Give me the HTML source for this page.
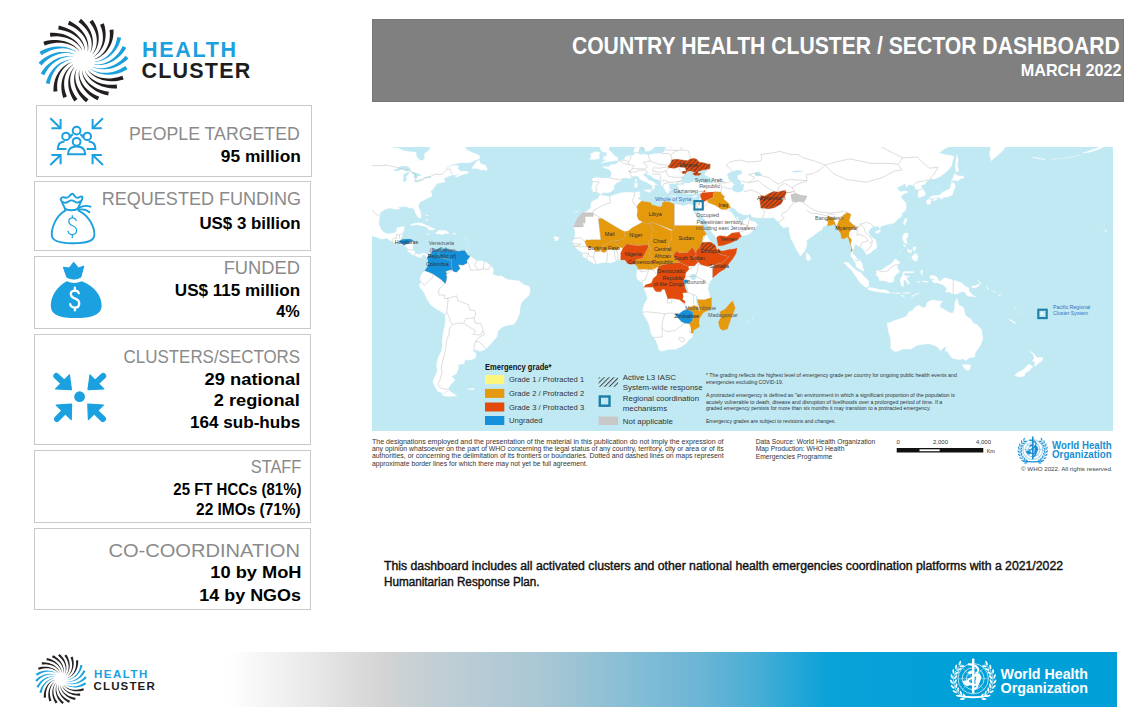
<!DOCTYPE html><html><head><meta charset="utf-8"><style>
*{margin:0;padding:0;box-sizing:border-box}
html,body{width:1132px;height:716px;overflow:hidden;background:#fff}
body{position:relative;font-family:"Liberation Sans",sans-serif}
.a{position:absolute;white-space:nowrap}
.box{position:absolute;border:1px solid #c9c9c9;background:#fff}
.lab{position:absolute;right:0;color:#8a8a8a;font-weight:normal;transform-origin:100% 0}
.val{position:absolute;right:0;color:#000;font-weight:bold;transform-origin:100% 0}
.map{position:absolute;left:372px;top:147px}
.leg{position:absolute;font-size:8px;color:#222}
.sw{position:absolute;width:19px;height:9px}
.note{position:absolute;font-size:5px;color:#333;line-height:6.6px;white-space:nowrap}
</style></head><body>
<svg style="position:absolute;left:0;top:0" width="140" height="110" viewBox="-83.5 -60.6 140 110"><path d="M8.97 6.46L11.20 7.32L13.56 7.99L16.03 8.45L18.59 8.70L21.22 8.72L23.91 8.50L26.63 8.04L29.37 7.34L32.10 6.38L34.81 5.17L37.46 3.71L40.05 2.00L42.54 0.03L44.92 -2.17L41.95 -4.86L40.00 -2.66L37.92 -0.67L35.72 1.13L33.43 2.71L31.05 4.07L28.61 5.21L26.12 6.14L23.61 6.83L21.09 7.30L18.59 7.54L16.11 7.56L13.68 7.35L11.31 6.93L9.04 6.28Z" fill="#1ba0db"/><path d="M6.86 8.39L8.78 9.75L10.87 10.97L13.13 12.00L15.54 12.86L18.08 13.50L20.75 13.94L23.51 14.15L26.36 14.12L29.27 13.85L32.22 13.34L35.19 12.56L38.16 11.53L41.12 10.24L44.03 8.68L41.85 5.33L39.35 6.99L36.77 8.42L34.15 9.63L31.49 10.61L28.81 11.36L26.13 11.88L23.48 12.18L20.86 12.25L18.30 12.10L15.82 11.73L13.43 11.16L11.14 10.38L8.98 9.40L6.98 8.23Z" fill="#1ba0db"/><path d="M4.28 9.74L5.76 11.52L7.44 13.19L9.34 14.74L11.43 16.14L13.72 17.38L16.17 18.43L18.79 19.30L21.55 19.96L24.44 20.40L27.44 20.60L30.54 20.57L33.70 20.28L36.91 19.74L40.15 18.94L38.88 15.15L35.99 16.16L33.11 16.93L30.23 17.47L27.39 17.78L24.60 17.86L21.87 17.73L19.23 17.38L16.69 16.82L14.27 16.06L11.98 15.12L9.83 13.99L7.85 12.69L6.04 11.23L4.43 9.62Z" fill="#231f20"/><path d="M1.41 10.43L2.34 12.50L3.50 14.52L4.90 16.47L6.54 18.32L8.41 20.07L10.49 21.68L12.78 23.14L15.28 24.44L17.95 25.56L20.80 26.48L23.80 27.19L26.94 27.67L30.20 27.92L33.56 27.92L33.24 23.93L30.17 24.21L27.17 24.27L24.25 24.10L21.43 23.72L18.71 23.14L16.13 22.36L13.68 21.39L11.39 20.24L9.27 18.93L7.33 17.47L5.58 15.87L4.03 14.14L2.69 12.30L1.59 10.35Z" fill="#231f20"/><path d="M-1.56 10.41L-1.24 12.63L-0.68 14.86L0.13 17.07L1.20 19.25L2.52 21.39L4.08 23.44L5.90 25.41L7.95 27.26L10.23 28.99L12.73 30.56L15.44 31.96L18.35 33.18L21.43 34.20L24.69 35.01L25.33 31.06L22.30 30.60L19.39 29.94L16.63 29.08L14.01 28.04L11.56 26.83L9.29 25.46L7.21 23.94L5.32 22.29L3.64 20.52L2.18 18.64L0.94 16.68L-0.07 14.63L-0.84 12.53L-1.36 10.38Z" fill="#231f20"/><path d="M-4.42 9.68L-4.73 11.90L-4.81 14.18L-4.64 16.51L-4.23 18.87L-3.55 21.24L-2.61 23.61L-1.40 25.94L0.07 28.22L1.80 30.44L3.78 32.56L6.01 34.57L8.49 36.45L11.19 38.17L14.12 39.73L15.70 36.06L12.91 34.90L10.30 33.56L7.88 32.07L5.65 30.45L3.64 28.69L1.83 26.83L0.25 24.86L-1.10 22.82L-2.23 20.71L-3.11 18.55L-3.76 16.35L-4.16 14.13L-4.32 11.91L-4.22 9.71Z" fill="#231f20"/><path d="M-6.98 8.29L-7.89 10.35L-8.61 12.53L-9.10 14.81L-9.36 17.19L-9.37 19.64L-9.12 22.15L-8.60 24.69L-7.82 27.25L-6.77 29.80L-5.44 32.33L-3.84 34.81L-1.96 37.22L0.17 39.54L2.57 41.76L5.03 38.60L2.67 36.81L0.53 34.90L-1.39 32.89L-3.08 30.78L-4.53 28.61L-5.74 26.38L-6.72 24.11L-7.46 21.81L-7.95 19.50L-8.20 17.19L-8.21 14.91L-7.98 12.66L-7.51 10.48L-6.79 8.37Z" fill="#231f20"/><path d="M-9.06 6.33L-10.52 8.10L-11.82 10.03L-12.94 12.11L-13.85 14.34L-14.54 16.70L-15.00 19.18L-15.22 21.75L-15.17 24.41L-14.87 27.13L-14.29 29.89L-13.43 32.67L-12.29 35.45L-10.87 38.21L-9.16 40.93L-5.98 38.51L-7.75 36.22L-9.27 33.87L-10.56 31.47L-11.60 29.04L-12.39 26.59L-12.94 24.15L-13.24 21.71L-13.31 19.31L-13.14 16.96L-12.73 14.66L-12.10 12.45L-11.25 10.33L-10.18 8.33L-8.90 6.46Z" fill="#231f20"/><path d="M-10.52 3.95L-12.43 5.30L-14.23 6.85L-15.88 8.59L-17.39 10.52L-18.71 12.63L-19.85 14.90L-20.78 17.33L-21.48 19.90L-21.95 22.59L-22.16 25.39L-22.11 28.28L-21.78 31.24L-21.18 34.25L-20.29 37.29L-16.57 35.82L-17.63 33.19L-18.45 30.55L-19.01 27.93L-19.33 25.33L-19.41 22.77L-19.26 20.27L-18.87 17.84L-18.26 15.50L-17.44 13.26L-16.40 11.13L-15.17 9.14L-13.76 7.30L-12.16 5.61L-10.41 4.11Z" fill="#231f20"/><path d="M-11.27 1.29L-13.50 2.14L-15.66 3.21L-17.75 4.49L-19.74 5.99L-21.61 7.70L-23.34 9.62L-24.92 11.73L-26.31 14.04L-27.51 16.52L-28.50 19.17L-29.26 21.96L-29.77 24.89L-30.03 27.94L-30.02 31.08L-26.03 30.70L-26.33 27.91L-26.38 25.16L-26.19 22.49L-25.77 19.89L-25.13 17.40L-24.28 15.01L-23.22 12.75L-21.98 10.62L-20.55 8.65L-18.96 6.84L-17.21 5.20L-15.32 3.76L-13.32 2.51L-11.20 1.48Z" fill="#231f20"/><path d="M-11.25 -1.45L-13.64 -1.16L-16.04 -0.65L-18.42 0.08L-20.76 1.05L-23.04 2.25L-25.25 3.69L-27.36 5.35L-29.35 7.23L-31.20 9.34L-32.89 11.65L-34.40 14.16L-35.72 16.85L-36.81 19.73L-37.68 22.76L-33.75 23.51L-33.25 20.73L-32.53 18.05L-31.59 15.50L-30.46 13.09L-29.14 10.82L-27.65 8.71L-25.99 6.77L-24.19 5.01L-22.26 3.44L-20.21 2.07L-18.07 0.91L-15.84 -0.04L-13.56 -0.76L-11.23 -1.25Z" fill="#1ba0db"/><path d="M-10.47 -4.09L-12.86 -4.39L-15.32 -4.47L-17.83 -4.33L-20.36 -3.96L-22.91 -3.34L-25.44 -2.49L-27.94 -1.39L-30.39 -0.05L-32.76 1.53L-35.04 3.35L-37.20 5.40L-39.21 7.68L-41.08 10.18L-42.76 12.89L-39.18 14.69L-37.92 12.12L-36.47 9.70L-34.85 7.45L-33.08 5.38L-31.16 3.50L-29.13 1.81L-26.98 0.33L-24.75 -0.94L-22.44 -2.00L-20.08 -2.83L-17.69 -3.44L-15.28 -3.83L-12.87 -3.98L-10.49 -3.90Z" fill="#1ba0db"/><path d="M-8.97 -6.46L-11.20 -7.32L-13.56 -7.99L-16.03 -8.45L-18.59 -8.70L-21.22 -8.72L-23.91 -8.50L-26.63 -8.04L-29.37 -7.34L-32.10 -6.38L-34.81 -5.17L-37.46 -3.71L-40.05 -2.00L-42.54 -0.03L-44.92 2.17L-41.95 4.86L-40.00 2.66L-37.92 0.67L-35.72 -1.13L-33.43 -2.71L-31.05 -4.07L-28.61 -5.21L-26.12 -6.14L-23.61 -6.83L-21.09 -7.30L-18.59 -7.54L-16.11 -7.56L-13.68 -7.35L-11.31 -6.93L-9.04 -6.28Z" fill="#1ba0db"/><path d="M-6.86 -8.39L-8.78 -9.75L-10.87 -10.97L-13.13 -12.00L-15.54 -12.86L-18.08 -13.50L-20.75 -13.94L-23.51 -14.15L-26.36 -14.12L-29.27 -13.85L-32.22 -13.34L-35.19 -12.56L-38.16 -11.53L-41.12 -10.24L-44.03 -8.68L-41.85 -5.33L-39.35 -6.99L-36.77 -8.42L-34.15 -9.63L-31.49 -10.61L-28.81 -11.36L-26.13 -11.88L-23.48 -12.18L-20.86 -12.25L-18.30 -12.10L-15.82 -11.73L-13.43 -11.16L-11.14 -10.38L-8.98 -9.40L-6.98 -8.23Z" fill="#1ba0db"/><path d="M-4.28 -9.74L-5.76 -11.52L-7.44 -13.19L-9.34 -14.74L-11.43 -16.14L-13.72 -17.38L-16.17 -18.43L-18.79 -19.30L-21.55 -19.96L-24.44 -20.40L-27.44 -20.60L-30.54 -20.57L-33.70 -20.28L-36.91 -19.74L-40.15 -18.94L-38.88 -15.15L-35.99 -16.16L-33.11 -16.93L-30.23 -17.47L-27.39 -17.78L-24.60 -17.86L-21.87 -17.73L-19.23 -17.38L-16.69 -16.82L-14.27 -16.06L-11.98 -15.12L-9.83 -13.99L-7.85 -12.69L-6.04 -11.23L-4.43 -9.62Z" fill="#231f20"/><path d="M-1.41 -10.43L-2.34 -12.50L-3.50 -14.52L-4.90 -16.47L-6.54 -18.32L-8.41 -20.07L-10.49 -21.68L-12.78 -23.14L-15.28 -24.44L-17.95 -25.56L-20.80 -26.48L-23.80 -27.19L-26.94 -27.67L-30.20 -27.92L-33.56 -27.92L-33.24 -23.93L-30.17 -24.21L-27.17 -24.27L-24.25 -24.10L-21.43 -23.72L-18.71 -23.14L-16.13 -22.36L-13.68 -21.39L-11.39 -20.24L-9.27 -18.93L-7.33 -17.47L-5.58 -15.87L-4.03 -14.14L-2.69 -12.30L-1.59 -10.35Z" fill="#231f20"/><path d="M1.56 -10.41L1.24 -12.63L0.68 -14.86L-0.13 -17.07L-1.20 -19.25L-2.52 -21.39L-4.08 -23.44L-5.90 -25.41L-7.95 -27.26L-10.23 -28.99L-12.73 -30.56L-15.44 -31.96L-18.35 -33.18L-21.43 -34.20L-24.69 -35.01L-25.33 -31.06L-22.30 -30.60L-19.39 -29.94L-16.63 -29.08L-14.01 -28.04L-11.56 -26.83L-9.29 -25.46L-7.21 -23.94L-5.32 -22.29L-3.64 -20.52L-2.18 -18.64L-0.94 -16.68L0.07 -14.63L0.84 -12.53L1.36 -10.38Z" fill="#231f20"/><path d="M4.42 -9.68L4.73 -11.90L4.81 -14.18L4.64 -16.51L4.23 -18.87L3.55 -21.24L2.61 -23.61L1.40 -25.94L-0.07 -28.22L-1.80 -30.44L-3.78 -32.56L-6.01 -34.57L-8.49 -36.45L-11.19 -38.17L-14.12 -39.73L-15.70 -36.06L-12.91 -34.90L-10.30 -33.56L-7.88 -32.07L-5.65 -30.45L-3.64 -28.69L-1.83 -26.83L-0.25 -24.86L1.10 -22.82L2.23 -20.71L3.11 -18.55L3.76 -16.35L4.16 -14.13L4.32 -11.91L4.22 -9.71Z" fill="#231f20"/><path d="M6.98 -8.29L7.89 -10.35L8.61 -12.53L9.10 -14.81L9.36 -17.19L9.37 -19.64L9.12 -22.15L8.60 -24.69L7.82 -27.25L6.77 -29.80L5.44 -32.33L3.84 -34.81L1.96 -37.22L-0.17 -39.54L-2.57 -41.76L-5.03 -38.60L-2.67 -36.81L-0.53 -34.90L1.39 -32.89L3.08 -30.78L4.53 -28.61L5.74 -26.38L6.72 -24.11L7.46 -21.81L7.95 -19.50L8.20 -17.19L8.21 -14.91L7.98 -12.66L7.51 -10.48L6.79 -8.37Z" fill="#231f20"/><path d="M9.06 -6.33L10.52 -8.10L11.82 -10.03L12.94 -12.11L13.85 -14.34L14.54 -16.70L15.00 -19.18L15.22 -21.75L15.17 -24.41L14.87 -27.13L14.29 -29.89L13.43 -32.67L12.29 -35.45L10.87 -38.21L9.16 -40.93L5.98 -38.51L7.75 -36.22L9.27 -33.87L10.56 -31.47L11.60 -29.04L12.39 -26.59L12.94 -24.15L13.24 -21.71L13.31 -19.31L13.14 -16.96L12.73 -14.66L12.10 -12.45L11.25 -10.33L10.18 -8.33L8.90 -6.46Z" fill="#231f20"/><path d="M10.52 -3.95L12.43 -5.30L14.23 -6.85L15.88 -8.59L17.39 -10.52L18.71 -12.63L19.85 -14.90L20.78 -17.33L21.48 -19.90L21.95 -22.59L22.16 -25.39L22.11 -28.28L21.78 -31.24L21.18 -34.25L20.29 -37.29L16.57 -35.82L17.63 -33.19L18.45 -30.55L19.01 -27.93L19.33 -25.33L19.41 -22.77L19.26 -20.27L18.87 -17.84L18.26 -15.50L17.44 -13.26L16.40 -11.13L15.17 -9.14L13.76 -7.30L12.16 -5.61L10.41 -4.11Z" fill="#231f20"/><path d="M11.27 -1.29L13.50 -2.14L15.66 -3.21L17.75 -4.49L19.74 -5.99L21.61 -7.70L23.34 -9.62L24.92 -11.73L26.31 -14.04L27.51 -16.52L28.50 -19.17L29.26 -21.96L29.77 -24.89L30.03 -27.94L30.02 -31.08L26.03 -30.70L26.33 -27.91L26.38 -25.16L26.19 -22.49L25.77 -19.89L25.13 -17.40L24.28 -15.01L23.22 -12.75L21.98 -10.62L20.55 -8.65L18.96 -6.84L17.21 -5.20L15.32 -3.76L13.32 -2.51L11.20 -1.48Z" fill="#231f20"/><path d="M11.25 1.45L13.64 1.16L16.04 0.65L18.42 -0.08L20.76 -1.05L23.04 -2.25L25.25 -3.69L27.36 -5.35L29.35 -7.23L31.20 -9.34L32.89 -11.65L34.40 -14.16L35.72 -16.85L36.81 -19.73L37.68 -22.76L33.75 -23.51L33.25 -20.73L32.53 -18.05L31.59 -15.50L30.46 -13.09L29.14 -10.82L27.65 -8.71L25.99 -6.77L24.19 -5.01L22.26 -3.44L20.21 -2.07L18.07 -0.91L15.84 0.04L13.56 0.76L11.23 1.25Z" fill="#1ba0db"/><path d="M10.47 4.09L12.86 4.39L15.32 4.47L17.83 4.33L20.36 3.96L22.91 3.34L25.44 2.49L27.94 1.39L30.39 0.05L32.76 -1.53L35.04 -3.35L37.20 -5.40L39.21 -7.68L41.08 -10.18L42.76 -12.89L39.18 -14.69L37.92 -12.12L36.47 -9.70L34.85 -7.45L33.08 -5.38L31.16 -3.50L29.13 -1.81L26.98 -0.33L24.75 0.94L22.44 2.00L20.08 2.83L17.69 3.44L15.28 3.83L12.87 3.98L10.49 3.90Z" fill="#1ba0db"/></svg>
<div id="lh" class="a" style="left:142px;top:39.5px;font-size:21.5px;line-height:1;font-weight:bold;color:#1ba0e0;letter-spacing:1.7px">HEALTH</div>
<div id="lc" class="a" style="left:141.5px;top:61px;font-size:21.5px;line-height:1;font-weight:bold;color:#1d1d1b;letter-spacing:1.2px">CLUSTER</div>
<div class="box" style="left:36px;top:105px;width:276px;height:72px"></div>
<div class="box" style="left:34px;top:181px;width:277px;height:70px"></div>
<div class="box" style="left:34px;top:256px;width:277px;height:73px"></div>
<div class="box" style="left:34px;top:334px;width:277px;height:111px"></div>
<div class="box" style="left:34px;top:450px;width:277px;height:73px"></div>
<div class="box" style="left:34px;top:528px;width:277px;height:82px"></div>
<div id="t0" class="a lab" style="right:831.9px;top:123.9px;font-size:19.2px;line-height:1;transform:scaleX(0.924)">PEOPLE TARGETED</div>
<div id="t1" class="a val" style="right:830.9px;top:147.5px;font-size:17.1px;line-height:1;transform:scaleX(1.015)">95 million</div>
<div id="t2" class="a lab" style="right:831.3px;top:189.0px;font-size:19.2px;line-height:1;transform:scaleX(0.94)">REQUESTED FUNDING</div>
<div id="t3" class="a val" style="right:831.3px;top:214.6px;font-size:17.1px;line-height:1;transform:scaleX(0.986)">US$ 3 billion</div>
<div id="t4" class="a lab" style="right:831.8px;top:257.7px;font-size:19.2px;line-height:1;transform:scaleX(0.954)">FUNDED</div>
<div id="t5" class="a val" style="right:831.8px;top:282.2px;font-size:17.1px;line-height:1;transform:scaleX(1.0)">US$ 115 million</div>
<div id="t6" class="a val" style="right:831.8px;top:302.6px;font-size:17.1px;line-height:1;transform:scaleX(0.95)">4%</div>
<div id="t7" class="a lab" style="right:831.8px;top:346.5px;font-size:19.2px;line-height:1;transform:scaleX(0.882)">CLUSTERS/SECTORS</div>
<div id="t8" class="a val" style="right:831.8px;top:370.5px;font-size:17.1px;line-height:1;transform:scaleX(1.073)">29 national</div>
<div id="t9" class="a val" style="right:831.8px;top:391.7px;font-size:17.1px;line-height:1;transform:scaleX(1.065)">2 regional</div>
<div id="t10" class="a val" style="right:831.8px;top:414.4px;font-size:17.1px;line-height:1;transform:scaleX(1.0)">164 sub-hubs</div>
<div id="t11" class="a lab" style="right:830.8px;top:456.8px;font-size:19.2px;line-height:1;transform:scaleX(0.853)">STAFF</div>
<div id="t12" class="a val" style="right:830.8px;top:481.5px;font-size:15.6px;line-height:1;transform:scaleX(0.96)">25 FT HCCs (81%)</div>
<div id="t13" class="a val" style="right:830.8px;top:502.2px;font-size:15.6px;line-height:1;transform:scaleX(0.99)">22 IMOs (71%)</div>
<div id="t14" class="a lab" style="right:832.1px;top:540.9px;font-size:19.2px;line-height:1;transform:scaleX(1.047)">CO-COORDINATION</div>
<div id="t15" class="a val" style="right:830.8px;top:564.1px;font-size:17.1px;line-height:1;transform:scaleX(1.066)">10 by MoH</div>
<div id="t16" class="a val" style="right:830.8px;top:586.9px;font-size:17.1px;line-height:1;transform:scaleX(1.048)">14 by NGOs</div>
<svg class="a" style="left:0;top:0" width="120" height="440" viewBox="0 0 120 440"><g fill="none" stroke="#1ba0e0" stroke-width="2.0" stroke-linecap="butt" stroke-linejoin="miter"><path d="M50.3 118.2L60.6 128.2"/><path d="M60.6 118.99999999999999L60.6 128.2L51.400000000000006 128.2"/><path d="M103.0 118.2L92.6 128.2"/><path d="M92.6 118.99999999999999L92.6 128.2L101.8 128.2"/><path d="M50.3 165.0L60.6 155.0"/><path d="M60.6 164.2L60.6 155.0L51.400000000000006 155.0"/><path d="M103.0 165.0L92.6 155.0"/><path d="M92.6 164.2L92.6 155.0L101.8 155.0"/><circle cx="76.6" cy="130.6" r="3.9"/><circle cx="65.9" cy="136.4" r="3.7"/><circle cx="87.3" cy="136.4" r="3.7"/><circle cx="76.6" cy="141.8" r="3.9"/><path d="M68 154.3L85.2 154.3Q85.2 146.6 76.6 146.6Q68 146.6 68 154.3Z"/><path d="M66.5 148.9L57.8 148.9Q57.8 141.9 64.6 141.6"/><path d="M86.7 148.9L95.4 148.9Q95.4 141.9 88.6 141.6"/><path d="M70.3 138Q70.5 135 73 134.6M82.9 138Q82.7 135 80.2 134.6"/></g><g fill="none" stroke="#1ba0e0" stroke-width="1.9" stroke-linejoin="round" stroke-linecap="round"><path d="M65 208.6L60.6 199.2Q61.5 196.6 64.5 197.5Q67.5 198.5 70 195.5L71.4 194Q72.6 193.2 73.6 194.6L75.5 197Q78 198.6 80.6 196.6Q82.8 195.8 82.4 198.6L77.8 208.6"/><path d="M62.8 202Q65.5 203.8 68.5 201.5Q71.5 199.3 74.5 201.5Q77.5 203.8 80.4 201.3"/><path d="M65 209Q71.3 211.5 77.8 209"/><path d="M65.3 210.6C57 215 51.6 226 51.8 235C52 241.5 60 243.3 72.5 243.2C86 243.3 94 241.5 94.4 235C94.6 226 88 215 78.6 210.6"/><path d="M78.5 207.8Q85 204.6 90.5 206.7M79.2 209.6Q85.5 208.6 89.4 212.2"/></g><path d="M76.2 220.5Q75.2 217.6 72.2 217.8Q68.6 218.2 68.8 221.6Q69.2 224.6 72.6 225.7Q76.8 227 76.6 230.8Q76.2 234.8 72 234.6Q68.4 234.3 68 231M72.3 215.6V217.8M72.3 234.6V237.6" fill="none" stroke="#1ba0e0" stroke-width="1.2" stroke-linecap="round"/><path d="M63.3 267.2L69.2 268L73.7 262.2L78.4 268L83.8 266L80.8 277.2Q74 281 66.8 277.2Z" fill="#1ba0e0" stroke="#1ba0e0" stroke-width="1" stroke-linejoin="round"/><path d="M66.8 281.3Q74 284.8 81.8 281.3C94.5 286.5 101.6 295.5 101.6 305.5C101.6 315.5 90 318.1 76 318.1C61 318.1 50.8 315.5 50.8 305.5C50.8 295.5 57.5 286.5 66.8 281.3Z" fill="#1ba0e0"/><path d="M78.8 293.2Q78.2 290.6 74.8 290.6Q70.6 290.8 70.8 294.4Q71.2 297.4 75.2 298.6Q79.4 300 79.2 303.8Q78.8 307.8 74.6 307.6Q70.6 307.3 70.2 304.2M74.9 287.6V290.6M74.9 307.6V310.4" fill="none" stroke="#fff" stroke-width="2.3" stroke-linecap="round"/><circle cx="79.6" cy="396.7" r="5.4" fill="#1ba0e0"/><path d="M71.4 389.6L69.4 374.8L55.6 389.0Z" fill="#1ba0e0" stroke="#1ba0e0" stroke-width="1.2" stroke-linejoin="round"/><path d="M56.3 376.0L67.0 385.8" stroke="#1ba0e0" stroke-width="6" stroke-linecap="round"/><path d="M88.0 389.6L90.0 374.8L103.8 389.0Z" fill="#1ba0e0" stroke="#1ba0e0" stroke-width="1.2" stroke-linejoin="round"/><path d="M103.2 376.0L92.5 385.8" stroke="#1ba0e0" stroke-width="6" stroke-linecap="round"/><path d="M71.6 404.2L56.2 405.0L71.2 419.6Z" fill="#1ba0e0" stroke="#1ba0e0" stroke-width="1.2" stroke-linejoin="round"/><path d="M57.0 419.0L67.6 408.2" stroke="#1ba0e0" stroke-width="6" stroke-linecap="round"/><path d="M87.8 404.2L103.4 405.0L88.4 419.6Z" fill="#1ba0e0" stroke="#1ba0e0" stroke-width="1.2" stroke-linejoin="round"/><path d="M103.0 419.0L91.8 408.2" stroke="#1ba0e0" stroke-width="6" stroke-linecap="round"/></svg>
<div class="a" style="left:372px;top:19px;width:752px;height:83px;background:#808080;border:1px solid #787878"></div>
<div id="h1" class="a" style="right:12.6px;top:35.2px;font-size:23.5px;font-weight:bold;color:#fff;line-height:1;transform-origin:100% 0;transform:scaleX(0.900)">COUNTRY HEALTH CLUSTER / SECTOR DASHBOARD</div>
<div id="h2" class="a" style="right:10.5px;top:62px;font-size:16.2px;font-weight:bold;color:#fff;line-height:1;transform-origin:100% 0;transform:scaleX(1.0)">MARCH 2022</div>
<svg class="map" width="741" height="284" viewBox="372 147 741 284">
<defs><pattern id="hatch" patternUnits="userSpaceOnUse" width="3.2" height="3.2" patternTransform="rotate(45)"><rect width="3.2" height="3.2" fill="#e24b0b"/><rect width="1" height="3.2" fill="#6b3a2a"/></pattern></defs>
<rect x="372" y="147" width="741" height="284" fill="#c1e9f3"/>
<path d="M301.5 136.8L325.5 136.8L373.6 136.8L385.7 141.2L385.7 143.4L390.5 144.1L392.9 147.4L397.7 147.8L403.7 150.5L409.7 151.6L416.2 152.1L416.4 156.3L418.1 158.3L420.5 160.5L423.4 159.8L424.6 157.8L424.1 153.8L427.7 151.2L429.9 149.0L428.9 145.6L426.5 143.4L426.5 136.8L445.8 136.8L460.2 141.2L465.0 146.5L466.2 149.0L471.0 151.8L475.8 153.4L480.2 156.0L479.4 158.9L475.8 160.2L469.8 162.9L460.2 162.9L453.0 164.5L448.2 166.7L444.6 169.8L450.6 166.0L455.4 165.1L459.0 165.8L457.8 168.2L460.2 171.1L466.2 170.9L469.3 172.2L466.2 174.0L460.2 175.5L456.6 177.5L454.9 176.2L459.0 173.8L455.4 175.3L453.0 174.9L448.2 176.6L444.3 178.4L444.3 180.0L445.8 181.5L444.6 182.2L441.0 183.1L436.6 183.7L436.2 185.1L433.7 188.2L432.3 190.2L430.6 191.0L431.6 193.0L432.5 195.9L430.1 197.2L426.5 199.0L423.6 200.6L420.5 202.1L418.8 204.3L418.6 206.5L420.3 211.0L421.5 215.4L420.8 218.3L419.1 218.3L417.4 216.5L415.2 213.2L414.5 209.9L412.1 207.7L409.7 208.3L406.1 206.8L402.5 206.8L398.9 207.2L399.6 208.8L397.7 209.4L394.1 209.2L389.3 208.3L385.7 209.4L382.0 211.2L379.9 213.2L380.4 216.5L379.2 219.8L378.9 224.3L380.1 226.5L382.0 230.2L384.5 232.5L388.1 233.8L392.9 232.9L395.3 232.5L396.5 230.2L397.0 227.6L402.5 226.5L404.9 226.5L403.7 230.9L402.5 233.3L402.0 236.4L401.3 238.9L403.4 239.1L407.3 238.9L410.9 239.1L414.0 241.1L413.3 245.3L412.8 247.7L413.3 250.2L415.7 252.8L417.6 254.2L420.5 253.9L422.9 252.8L425.3 253.3L428.0 254.8L428.2 255.7L426.8 258.2L425.3 255.5L422.9 254.6L421.7 257.5L420.5 257.9L418.1 257.0L414.8 255.9L413.3 255.3L409.7 252.4L407.5 252.0L408.0 249.7L407.3 247.7L403.7 245.5L402.5 244.9L397.7 243.8L392.4 242.0L386.9 238.4L382.0 239.3L376.0 237.3L370.0 235.3L365.2 233.6L361.6 232.0L360.4 228.7L359.2 223.2L349.6 220.9L337.6 207.7L325.5 198.8L313.5 185.5L301.5 136.8ZM428.2 255.7L429.4 255.1L431.3 253.3L432.5 250.6L434.9 249.7L438.1 249.1L441.0 246.9L442.6 248.0L441.2 249.7L441.9 251.1L442.9 248.6L445.3 248.4L445.8 247.1L447.0 248.6L449.9 250.0L454.9 250.6L459.0 251.3L461.4 250.4L465.0 250.4L466.0 252.2L467.9 255.3L470.3 255.7L473.4 258.6L476.6 260.8L481.8 260.8L485.4 261.7L490.3 264.8L491.5 266.3L493.9 270.1L492.7 274.1L497.5 275.9L501.1 275.4L507.1 279.2L513.1 280.1L519.1 280.7L523.9 284.5L529.5 286.3L530.4 290.7L529.5 295.1L525.1 298.9L521.5 302.9L520.3 307.3L519.8 312.9L517.9 318.0L515.5 322.8L513.1 324.8L507.1 325.5L502.3 327.3L498.0 331.2L497.2 336.8L493.9 340.6L490.3 344.5L486.7 348.3L483.0 350.7L479.4 351.4L475.8 350.1L473.7 348.7L473.4 350.7L476.3 353.4L475.6 358.3L471.0 360.0L465.0 360.3L464.3 363.8L457.8 364.9L459.0 367.8L457.8 370.5L456.6 373.8L451.8 376.4L455.4 380.0L450.6 384.9L448.2 388.4L449.4 390.4L445.8 391.5L443.4 393.7L437.4 391.5L434.9 387.1L432.5 381.5L434.9 376.0L437.4 370.5L436.2 366.0L437.4 359.4L438.6 356.1L441.0 351.6L442.2 346.1L442.2 340.6L442.6 333.9L444.3 327.3L445.3 320.6L445.0 314.6L442.2 312.4L436.2 309.1L430.6 304.9L427.0 299.6L424.1 292.9L420.5 288.3L418.8 285.2L421.0 281.9L419.6 279.0L421.5 274.1L422.9 271.9L424.6 270.8L427.7 266.3L428.2 263.0L427.7 259.3L426.8 258.2ZM449.1 390.6L457.3 395.9L453.0 396.6L445.8 396.4L441.0 394.8L445.8 392.2ZM467.4 388.8L475.1 388.2L473.4 389.9L468.6 389.7ZM409.9 225.6L412.1 223.8L416.9 222.7L421.7 222.9L427.7 225.8L432.3 227.6L435.7 229.4L433.7 230.0L427.3 230.0L428.5 228.5L425.3 226.5L420.5 225.8L416.9 224.7L413.3 225.4ZM435.2 233.3L439.0 230.0L445.8 230.5L449.6 232.9L448.7 233.8L444.6 233.8L442.2 235.1L439.8 234.0L435.7 234.0ZM425.8 233.3L430.9 234.2L429.4 234.7L426.1 234.0ZM452.5 233.1L456.4 233.3L455.9 234.2L452.7 234.2ZM426.1 214.7L428.9 215.2L428.5 216.1L425.3 215.4ZM426.5 218.3L427.7 220.5L427.0 221.4L425.8 219.6ZM471.5 168.7L478.2 168.7L480.6 170.2L484.2 170.0L486.7 170.7L487.4 168.7L485.4 165.1L480.6 163.6L479.4 159.8L476.3 161.8L473.4 165.6ZM599.9 194.8L609.3 196.4L614.1 194.8L621.3 192.6L629.7 192.1L634.8 192.4L638.1 191.5L640.6 192.1L639.3 193.7L640.8 196.1L638.1 198.3L641.0 200.6L644.2 201.4L650.7 202.6L651.9 204.8L655.0 205.4L659.8 207.0L662.2 205.4L662.2 202.8L664.6 201.4L669.4 201.9L674.2 204.1L679.0 204.5L683.8 205.7L688.6 204.1L691.8 204.8L696.3 204.8L698.0 208.8L696.5 212.5L692.5 207.9L694.7 213.2L697.1 217.6L699.9 222.0L702.8 225.4L703.6 229.8L706.7 234.2L708.6 239.1L710.8 241.1L713.9 244.2L717.5 246.4L718.2 248.0L721.1 251.1L724.7 250.4L729.5 249.3L733.1 249.1L737.2 248.0L736.7 250.8L736.3 253.1L733.1 258.6L729.5 263.0L724.7 269.2L719.9 271.9L715.1 275.9L712.7 278.5L710.3 281.2L709.1 284.3L707.9 288.5L709.1 291.8L709.8 296.2L711.5 298.5L711.7 305.1L711.5 308.4L703.1 312.9L699.5 318.4L699.0 322.8L699.7 326.8L693.5 330.6L693.2 332.8L692.3 337.2L689.4 339.4L686.2 343.4L681.4 346.8L675.9 349.4L669.4 349.4L662.2 351.2L658.6 349.9L657.9 346.1L655.7 340.6L653.8 337.4L650.9 333.9L649.0 325.0L648.7 323.9L645.8 318.4L642.5 312.9L642.7 308.9L644.2 304.0L647.3 298.5L645.8 292.9L643.4 287.4L642.5 283.0L636.9 279.2L636.2 275.2L636.9 271.9L637.7 267.0L635.5 264.1L630.9 264.4L627.3 263.5L624.9 260.1L620.1 260.1L616.5 261.0L610.5 263.0L606.4 262.8L602.1 262.8L596.1 264.4L592.5 263.0L586.4 259.0L582.8 256.4L582.1 253.1L578.5 250.2L574.4 246.9L573.7 243.5L572.0 241.5L574.4 238.7L575.1 232.0L573.5 226.9L575.9 221.4L578.8 216.5L582.8 212.7L586.4 211.4L590.5 208.1L591.0 202.1L594.9 199.7L597.7 198.6ZM732.7 300.7L735.3 308.0L733.9 311.8L730.7 319.5L727.6 329.0L722.8 330.6L719.9 328.4L718.2 322.4L720.9 317.3L719.9 311.8L725.2 309.1L729.0 304.2ZM626.1 132.3L627.3 143.4L629.7 145.4L633.3 145.4L636.9 143.4L639.3 142.3L641.0 143.4L642.2 145.6L644.9 149.0L645.1 151.2L648.2 151.4L652.6 149.6L654.3 146.7L654.5 144.5L658.1 142.3L656.2 139.0L656.2 135.7L664.6 131.2L674.2 130.1L674.2 136.8L665.8 139.4L669.4 141.4L677.8 140.3L686.2 141.2L681.4 142.3L670.6 143.0L670.6 145.0L672.8 146.1L671.8 147.8L668.2 146.5L664.6 148.3L664.8 150.7L662.2 152.9L658.6 153.2L653.8 153.4L648.2 154.7L643.0 154.0L640.3 154.5L638.1 153.4L639.3 149.0L639.6 146.3L634.5 147.6L633.6 151.2L634.8 154.5L630.9 155.6L626.1 156.0L624.4 158.5L622.0 160.2L617.9 161.4L617.5 163.1L614.1 164.5L611.0 164.2L609.5 166.2L602.8 166.5L603.5 168.0L608.1 169.3L611.2 171.8L611.0 175.5L609.8 178.0L603.3 178.0L594.9 177.3L591.7 178.9L592.9 182.2L591.3 188.2L592.9 190.2L592.5 192.1L596.3 191.7L599.0 193.3L600.6 194.4L603.3 192.8L609.3 192.8L612.4 190.8L614.6 188.2L613.4 186.6L616.3 183.3L621.8 181.1L621.6 178.6L624.9 178.0L629.7 178.6L632.1 177.1L635.3 175.8L638.6 176.9L639.3 179.1L643.0 181.1L647.3 182.8L651.6 185.5L652.6 187.9L651.9 189.9L652.8 189.9L655.2 187.7L654.0 185.3L657.1 184.8L658.6 185.3L655.0 183.3L652.6 181.3L647.8 179.5L646.8 177.5L643.7 175.5L643.7 173.8L647.0 172.9L646.8 174.4L650.2 175.5L653.8 178.2L658.6 180.2L661.0 181.5L660.8 184.8L662.7 186.4L664.6 189.3L666.0 192.6L668.7 193.3L669.6 190.2L671.8 189.9L668.9 187.9L669.9 185.9L668.4 184.8L671.8 183.7L676.6 183.7L677.1 184.2L680.2 183.3L683.8 182.8L681.4 182.0L681.2 178.4L682.9 176.0L685.3 174.0L687.4 171.5L690.3 170.9L694.7 172.2L692.3 173.8L694.7 175.5L698.3 174.9L701.9 173.8L698.7 172.7L698.3 171.5L704.3 169.8L708.4 169.6L705.5 172.2L704.3 175.1L706.7 176.0L710.3 178.0L714.1 182.2L711.5 183.3L705.5 183.5L698.3 181.1L693.5 181.3L689.1 183.1L684.3 183.1L683.8 184.4L679.5 184.6L677.3 185.5L678.5 187.7L679.5 190.6L680.7 192.8L683.8 193.0L687.4 193.7L691.1 194.1L695.9 193.7L700.7 192.8L700.7 194.8L700.2 197.5L699.5 199.0L698.3 201.4L696.3 204.8L698.0 208.8L698.3 212.1L701.9 216.5L705.5 220.9L708.4 226.5L711.5 232.0L715.1 236.4L717.0 240.9L718.2 246.0L721.1 245.7L724.7 244.4L730.7 243.1L734.3 241.1L739.1 239.1L740.8 236.4L747.1 235.1L750.7 232.9L753.1 230.2L754.8 228.7L757.9 224.5L755.0 221.8L751.2 220.9L750.0 219.8L749.5 215.8L747.6 217.6L744.0 220.5L739.1 220.9L737.9 219.8L738.2 217.0L737.2 216.3L736.3 219.2L734.6 217.0L733.1 214.3L730.7 211.2L729.3 208.8L730.7 207.7L733.1 207.7L735.5 209.4L737.5 212.3L742.8 214.7L747.6 215.2L750.0 214.1L751.9 217.0L756.0 217.8L762.2 218.3L768.0 218.1L774.0 217.8L775.2 219.2L777.6 221.6L778.8 222.0L780.0 224.7L783.6 228.0L787.7 227.1L788.7 226.9L789.2 232.0L790.6 238.7L793.3 243.1L794.5 246.4L796.9 250.8L800.5 256.4L802.1 254.2L804.8 251.3L806.0 248.6L807.2 244.2L806.7 240.4L810.1 238.0L812.5 236.4L817.3 232.7L822.1 229.8L823.3 226.5L826.9 225.8L830.5 225.4L834.1 224.3L836.1 227.6L838.9 230.9L840.9 234.2L841.3 238.2L843.7 239.1L847.8 236.9L849.0 240.4L850.7 245.3L851.2 250.8L850.5 255.9L853.4 259.7L855.3 263.0L855.8 266.3L858.2 268.6L863.0 271.2L864.7 270.8L863.0 267.5L862.5 264.1L860.6 260.8L857.0 258.8L855.1 255.3L852.6 253.5L854.3 246.4L855.8 244.2L858.2 246.2L861.3 247.5L864.2 250.8L866.6 255.1L870.7 253.1L872.6 250.8L876.7 248.6L876.9 244.2L875.7 239.8L870.9 236.4L868.3 232.0L870.9 228.2L873.8 226.5L878.1 226.5L879.8 229.1L881.0 226.5L885.8 224.9L889.4 224.3L894.2 223.2L897.4 219.8L901.5 216.5L902.2 213.2L905.1 211.0L907.0 206.5L905.1 205.4L907.0 203.9L904.6 201.4L901.5 197.7L901.0 196.6L903.9 194.1L908.7 192.1L905.1 190.6L900.3 191.7L897.9 188.8L897.1 187.3L900.3 186.6L905.1 183.5L906.3 187.7L908.7 184.8L912.8 185.5L914.2 186.2L915.4 188.8L918.3 190.8L917.8 194.4L918.3 197.7L920.7 197.2L925.0 195.7L925.5 193.3L923.1 188.8L920.7 185.9L925.5 183.7L926.2 182.2L928.4 180.4L931.0 178.9L934.4 179.3L939.9 176.9L944.7 173.3L948.4 170.0L952.0 165.6L952.7 161.1L954.4 156.3L950.8 155.2L944.7 154.5L939.2 152.7L944.7 149.0L950.8 146.1L956.8 143.0L962.8 142.3L971.2 142.8L979.6 143.4L986.8 142.8L990.4 146.7L989.2 154.5L990.9 161.1L995.2 157.8L998.9 154.5L1003.7 150.1L1006.1 146.1L1010.9 141.2L1046.9 132.3L1046.9 114.6L758.4 114.6L662.2 116.8ZM600.4 163.4L606.9 162.0L617.5 160.7L618.2 157.4L614.8 155.8L612.9 153.4L610.3 150.9L608.8 149.2L609.8 146.5L605.7 146.3L604.5 144.3L601.8 144.3L599.7 147.2L600.6 150.1L602.6 152.3L606.9 152.5L606.2 154.5L606.9 156.0L603.0 156.0L604.0 158.3L601.6 159.6L606.9 160.0L604.0 160.7ZM599.7 158.5L599.2 154.7L600.6 153.2L598.5 151.8L594.4 151.8L590.3 154.0L591.3 156.7L589.1 159.4L594.9 159.8ZM643.9 189.7L651.6 189.3L650.4 192.8L644.2 190.8ZM634.3 183.3L637.7 183.1L637.2 187.3L634.5 187.9ZM634.8 179.1L636.9 179.1L636.5 182.4L635.0 181.5ZM670.6 195.2L677.3 195.9L676.6 196.6L670.9 196.1ZM691.8 196.6L697.3 195.0L695.9 197.5L692.3 197.2ZM806.2 252.4L808.6 254.2L811.0 257.5L810.3 260.1L807.7 261.0L806.0 258.6ZM905.1 218.1L907.5 218.7L906.3 222.0L904.6 225.4L903.1 223.2ZM875.3 231.6L879.8 229.6L881.0 230.7L878.1 233.6L875.3 232.9ZM926.0 200.6L929.1 198.8L931.5 199.9L930.3 204.3L927.2 205.0L926.2 201.7ZM928.9 198.1L932.7 195.5L939.9 195.0L942.3 192.1L944.7 191.0L949.6 188.8L950.8 185.5L951.2 182.6L954.4 182.6L955.6 186.6L954.4 189.3L953.2 192.1L952.7 195.0L949.6 196.6L947.2 197.2L943.5 197.5L941.1 199.7L939.2 197.5L933.9 198.1L931.0 198.8ZM932.7 201.0L936.3 200.3L938.0 198.6L935.1 198.1L933.0 199.0ZM950.8 182.2L952.0 179.7L954.6 173.5L958.0 175.5L963.5 176.0L964.0 178.2L960.4 179.1L958.7 181.1L953.2 180.4ZM955.6 172.2L959.2 171.1L957.5 165.6L958.5 160.0L956.8 153.8L955.6 161.1L955.1 166.7ZM904.1 233.1L908.0 233.1L908.2 236.4L906.3 239.1L907.0 242.6L912.3 245.3L908.7 243.5L904.1 243.3L903.9 242.0L902.7 239.8L902.2 237.8ZM907.5 258.6L911.1 257.0L915.9 252.8L918.3 256.4L917.6 260.1L915.9 261.7L912.8 260.1L911.6 256.8ZM907.5 248.0L910.4 250.8L908.7 253.1L907.5 250.8ZM913.0 246.4L916.4 247.5L914.7 251.5L913.0 249.7ZM911.1 249.3L912.3 251.3L910.1 253.9L909.6 252.0ZM903.4 244.2L906.3 245.3L905.3 246.9L903.6 246.0ZM895.9 255.5L901.5 250.8L901.9 249.3L899.1 253.1ZM843.3 261.9L848.6 262.6L851.4 265.7L855.8 269.7L861.3 273.0L863.7 276.3L866.6 278.5L869.0 281.4L868.8 286.9L865.4 287.2L860.1 283.0L855.5 276.3L851.7 270.6L847.4 266.8ZM867.1 289.2L869.0 287.2L874.5 288.1L879.8 289.4L884.6 289.4L889.4 291.4L889.4 293.4L881.0 292.5L875.0 291.4L870.2 290.5ZM889.4 292.3L892.3 292.7L891.1 293.6ZM893.0 292.5L894.7 292.5L894.2 293.8L893.0 293.6ZM895.0 292.9L900.5 292.3L900.0 293.6L895.2 294.0ZM902.2 292.7L909.9 292.3L909.4 293.4L902.4 293.6ZM900.3 295.1L904.6 295.8L903.9 296.9L900.7 295.8ZM911.1 296.7L914.7 294.0L920.0 292.7L918.3 293.8L913.5 296.2L911.3 297.1ZM876.2 270.8L877.7 269.7L881.0 270.3L885.8 267.0L891.8 263.0L895.4 258.6L900.3 262.6L898.3 264.6L897.1 267.5L900.0 271.9L896.7 274.1L894.2 277.4L893.8 281.9L889.4 283.0L885.8 281.2L879.1 280.7L878.6 277.9L876.2 275.2ZM901.5 286.3L903.9 286.3L903.6 280.7L905.1 280.1L908.2 284.5L909.9 283.4L906.5 278.1L910.6 276.1L905.1 275.9L904.1 273.0L913.5 273.0L914.7 270.8L913.0 271.4L903.9 271.2L902.7 273.0L901.9 276.1L899.8 280.1ZM920.9 269.2L923.1 271.2L921.9 273.0L923.3 275.9L920.7 274.1L920.7 271.4ZM921.9 280.7L928.6 281.2L927.9 282.5L922.4 282.1ZM917.1 281.0L920.0 281.4L919.0 282.5L917.1 282.1ZM929.1 277.2L931.5 275.0L936.3 276.1L939.5 281.4L944.7 277.4L952.0 279.4L961.6 282.5L964.7 285.8L968.8 287.8L969.5 291.8L973.6 295.6L976.7 297.4L973.6 296.9L967.6 296.2L964.0 291.8L959.2 292.5L958.0 294.0L953.2 294.3L948.4 291.8L945.9 292.7L945.5 290.3L947.2 289.2L943.5 285.2L937.5 283.0L933.9 283.0L931.5 280.3L935.1 279.2L931.5 279.0ZM971.2 286.3L976.0 285.2L979.6 283.4L979.1 286.3L974.8 288.1L971.2 287.4ZM976.7 279.9L980.8 282.5L982.0 284.5L980.1 283.4ZM985.9 285.6L989.0 289.2L987.5 289.4ZM990.4 289.6L996.4 292.3L995.2 292.7ZM997.6 294.3L1000.8 295.4L998.9 296.0ZM1000.1 292.5L1002.5 295.1L1001.7 295.4ZM1014.7 306.4L1016.2 307.8L1015.2 308.7ZM1017.6 310.0L1018.8 311.3L1018.3 313.3L1019.3 312.9ZM1008.5 318.8L1010.9 319.7L1016.2 323.3L1014.7 323.7L1009.7 320.6ZM1040.5 312.6L1043.3 312.4L1043.6 314.4L1040.5 314.2ZM1044.1 310.0L1046.9 309.5L1046.7 311.3L1044.1 311.3ZM887.0 322.8L888.2 331.7L890.4 338.3L890.6 348.3L894.2 351.6L897.9 351.6L902.7 349.2L911.1 349.2L917.1 345.6L924.3 344.3L929.1 343.9L933.9 345.4L937.5 347.2L940.7 351.2L942.3 349.0L945.5 346.3L945.5 349.0L944.7 351.8L947.2 351.2L949.6 354.9L952.0 358.3L959.2 360.0L962.8 358.9L965.9 360.7L969.5 358.0L974.8 357.2L975.5 352.7L977.9 349.0L980.8 345.0L983.2 338.3L982.3 333.9L982.0 330.1L976.7 323.9L973.6 323.5L971.2 319.1L965.9 315.7L963.5 307.3L959.2 305.1L956.8 297.8L954.6 302.5L954.4 308.4L952.7 312.9L949.6 312.4L944.7 309.5L939.9 306.9L941.1 302.9L943.1 301.1L936.3 300.5L933.0 299.6L929.1 301.1L926.7 302.9L925.5 307.3L921.9 307.3L919.5 305.1L915.9 306.2L912.3 310.2L908.7 311.8L906.3 316.2L900.3 318.4L895.4 320.0L889.4 322.4ZM962.1 364.3L970.7 364.7L970.0 369.8L967.1 370.7L964.0 368.2ZM1029.4 350.3L1033.7 353.4L1037.1 357.2L1043.3 357.6L1042.1 360.9L1039.3 362.7L1035.6 366.2L1034.0 365.4L1034.9 362.3L1032.0 360.9L1034.0 358.3L1033.2 354.9L1030.1 351.6ZM1029.2 363.8L1033.2 366.5L1030.6 369.3L1029.6 371.1L1025.8 372.7L1024.6 375.8L1021.2 377.3L1014.5 376.0L1015.7 373.8L1019.3 371.6L1024.1 368.9L1026.5 366.0ZM217.3 153.4L224.5 152.3L234.2 149.0L239.0 146.5L240.2 145.2L231.8 147.8L222.1 151.2L217.3 152.5ZM1083.0 153.4L1090.2 152.3L1099.8 149.0L1104.7 146.5L1105.9 145.2L1097.4 147.8L1087.8 151.2L1083.0 152.5ZM186.1 159.4L195.7 158.7L205.3 157.6L210.1 156.3L214.9 155.4L214.2 154.9L205.3 157.1L195.7 158.4L186.1 159.0ZM1051.8 159.4L1061.4 158.7L1071.0 157.6L1075.8 156.3L1080.6 155.4L1079.9 154.9L1071.0 157.1L1061.4 158.4L1051.8 159.0ZM1030.1 157.1L1042.1 159.4L1045.7 160.0L1044.5 159.1L1034.9 157.1ZM239.0 231.6L241.9 230.9L239.4 229.4L239.2 230.2ZM1104.7 231.6L1107.5 230.9L1105.1 229.4L1104.9 230.2ZM237.3 227.8L239.0 228.2L238.0 228.5ZM1103.0 227.8L1104.7 228.2L1103.7 228.5ZM233.4 226.3L234.9 226.9L233.9 226.9ZM1099.1 226.3L1100.6 226.9L1099.6 226.9ZM229.8 224.9L231.0 224.9L230.6 225.6ZM1095.5 224.9L1096.7 224.9L1096.2 225.6ZM990.4 146.7L989.2 154.5L990.9 161.1L995.2 157.8L998.9 154.5L1003.7 150.1L1006.1 146.1L1010.9 141.2L1022.9 136.8L994.0 136.8ZM465.5 236.0L466.0 236.4L465.2 236.7ZM466.0 237.8L466.9 238.0L466.5 238.9L465.5 238.4ZM467.2 241.1L467.7 242.2L466.9 242.0ZM467.4 242.9L467.7 243.8L467.2 243.5ZM470.5 244.6L471.3 245.1L470.8 245.3ZM465.2 250.2L467.4 250.2L467.4 251.7L465.2 251.7ZM545.6 188.6L547.2 188.8L546.3 189.0ZM573.7 211.0L577.1 211.6L581.6 210.1L576.6 212.5ZM553.5 236.4L559.3 237.1L557.6 240.9L555.2 241.1ZM751.9 318.4L753.1 318.6L752.4 319.5ZM746.8 320.6L748.3 320.8L747.6 321.5ZM718.0 299.4L718.7 299.8L718.2 300.5ZM790.6 264.8L791.1 265.7L790.6 266.3ZM556.4 129.0L580.4 127.9L581.6 131.2L568.4 133.9L559.5 132.8Z" fill="#fff" stroke="#d8eef4" stroke-width="0.3"/>
<path d="M392.6 170.7L397.7 170.9L402.5 169.3L406.1 171.1L410.7 171.1L410.2 168.2L407.3 166.2L401.8 166.0L398.9 167.8ZM402.7 181.7L403.7 177.7L403.2 174.4L406.6 172.4L409.7 172.2L408.5 174.2L406.3 176.6L406.8 180.0L404.9 181.7ZM410.7 172.2L413.3 172.2L416.9 173.1L420.5 174.4L421.7 175.5L417.6 176.2L416.0 178.9L413.3 176.6L413.8 174.4L410.7 172.7ZM413.3 181.7L419.3 180.6L424.1 179.3L423.6 180.0L418.1 182.2ZM422.2 178.2L430.9 177.7L430.6 176.2L426.5 176.6ZM732.4 171.3L737.2 170.0L741.5 170.4L742.0 173.8L737.5 175.5L737.9 178.9L740.6 181.1L741.5 184.4L744.0 183.7L743.7 187.3L742.8 191.0L737.9 192.6L733.1 191.0L731.9 188.8L733.1 185.1L735.1 184.8L733.1 183.3L730.7 181.1L728.3 178.9L728.3 176.0L726.6 175.1L728.3 173.3ZM754.8 172.2L759.6 171.8L762.0 174.4L758.4 176.6L754.8 175.5ZM790.8 171.1L799.3 170.4L804.1 171.5L794.5 172.4ZM690.6 274.5L693.5 273.4L695.9 274.8L696.6 276.8L694.9 279.9L692.0 280.1L690.1 277.4ZM684.3 281.9L685.3 281.4L687.4 287.4L688.6 292.9L687.4 293.1L685.0 288.5L683.8 284.1ZM696.3 295.4L697.3 295.4L698.3 300.7L698.7 305.1L697.1 305.8L696.3 300.7Z" fill="#c1e9f3"/>
<path d="M318.3 165.6L385.2 165.6L385.2 164.7L398.6 167.8L409.9 171.1L415.7 173.8L416.0 178.9L414.3 181.1L424.1 178.9L430.1 176.6L434.5 174.4L442.2 174.4L445.8 170.7L447.7 169.1L450.6 169.3L451.1 172.9L453.0 174.0M332.8 202.1L347.2 204.8L353.9 204.8L358.0 203.7L362.8 208.5L366.4 209.9L370.3 208.1L374.8 213.2L380.4 216.7M392.4 242.0L392.4 240.2L393.6 238.4L396.7 238.4L396.5 234.7L399.7 234.7L401.8 233.1M399.6 234.7L399.6 238.9M397.4 243.8L399.1 242.2M408.0 249.5L412.8 250.0M414.5 255.7L415.5 252.8M476.6 260.8L474.6 265.2L478.2 269.9M484.2 261.5L483.3 269.0M468.6 262.6L470.5 270.1L478.2 269.9L483.3 269.0L489.1 269.2L490.0 264.8M421.0 281.6L424.1 285.2L432.5 277.4L433.3 274.3M445.8 282.5L438.6 289.6L439.0 294.9L444.6 295.1L444.6 298.5L448.2 298.5L447.2 308.4L446.7 312.4L444.8 314.6M447.0 298.5L456.8 295.8L457.8 300.7L468.6 304.7L469.8 310.2L474.1 310.2L475.8 314.0L474.1 318.0L466.2 318.4L463.6 323.3L457.8 323.1L452.5 324.6L450.1 321.3L449.4 317.3L446.7 312.4M474.1 318.0L475.1 323.3L480.6 323.3L482.8 328.4L482.8 330.8L480.6 335.0L473.2 334.3L475.6 330.6L469.8 327.3L463.6 323.3M482.8 330.8L484.7 334.1L479.4 337.2L475.6 341.0L480.4 342.5L485.7 348.7M475.6 341.0L473.7 348.7M452.5 324.6L449.4 328.4L449.1 333.9L446.5 340.6L445.8 347.2L444.6 353.8L442.9 360.5L441.4 367.1L441.9 372.7L440.2 379.3L437.8 384.9L441.0 388.2L448.2 389.7M452.3 269.7L447.0 274.1L445.8 282.5M609.8 178.0L621.8 180.2M592.7 181.3L599.2 182.0L596.1 186.6L596.3 191.7M620.1 160.9L624.2 163.6L628.8 164.5L633.8 165.6L632.4 168.7L628.5 171.5L630.9 172.4L630.0 174.2L632.1 177.1M622.0 160.2L624.9 160.2L628.5 161.8L628.8 164.5M630.9 155.6L630.5 158.9L628.5 161.8M634.8 152.5L638.1 152.7M648.2 154.7L649.2 157.6L650.2 160.9L643.2 162.7L647.3 166.0L645.4 168.9L639.3 168.9L632.4 168.7M628.5 171.5L634.5 172.2L639.3 170.4L644.2 170.0L647.0 171.1L647.0 172.9M650.2 160.9L653.8 162.5L659.3 164.5L668.4 165.3M661.2 153.6L668.9 153.6L670.6 154.7L671.6 158.5L670.9 162.5M654.7 166.5L653.8 167.8L652.6 171.1L659.3 172.4L662.9 171.8L665.8 170.7L669.2 168.0M655.5 167.8L659.3 168.2L667.5 166.9M668.2 176.2L674.2 177.3L682.9 177.3M678.1 167.1L681.9 173.3M660.8 181.3L664.6 180.0L669.2 182.6L677.1 181.7L681.4 181.1M652.1 174.0L659.8 174.4L661.0 178.9L658.6 180.2M665.8 170.7L668.2 176.2M662.7 186.4L664.1 183.5L669.2 182.6M681.4 142.3L680.7 146.7L681.9 149.8L688.4 150.9L690.6 158.7M670.6 154.7L676.6 150.7L681.9 149.8M664.8 149.8L678.1 150.7M672.8 145.9L680.0 146.5M643.0 150.1L642.2 145.6M641.8 142.3L644.2 139.0L647.8 130.1M674.2 130.1L681.4 136.8L686.2 141.2M714.1 182.2L718.7 183.1L721.8 186.2L720.9 191.9M677.1 184.2L677.8 181.7L681.4 181.1M710.3 178.0L717.5 180.0L725.9 182.8L730.7 181.5M721.8 186.2L725.9 187.9L730.2 188.8L731.7 189.0M718.7 183.1L725.9 182.8M744.0 191.5L751.2 189.9L759.6 193.3L760.8 195.2M760.8 207.9L765.1 211.4L762.2 218.3M699.5 208.8L703.1 207.9L707.9 202.6M702.6 202.6L699.5 202.1M726.2 209.6L730.2 211.0M736.3 219.2L739.1 223.2L748.0 225.4L746.4 229.8L739.1 232.0M749.5 215.8L748.8 220.9L748.0 225.4M696.3 204.8L698.0 208.8M792.0 200.6L793.3 203.2L786.0 212.1L783.2 212.7L781.2 215.4L784.4 218.1L778.8 222.0M794.2 191.5L795.7 193.3M801.7 195.5L804.1 203.2L809.4 207.2L813.7 209.9L820.9 212.3L826.2 212.3L828.1 213.2L835.3 212.5L843.7 211.4L847.4 212.5M806.7 210.3L811.3 213.2L816.1 213.6L826.2 215.6M827.6 213.6L835.3 214.7M849.0 220.9L853.4 225.1L858.9 227.1L860.6 223.8L867.3 222.5L870.7 223.6L873.8 226.5M855.8 226.5L854.8 229.1L857.5 230.9L857.0 235.1L860.6 234.5L866.1 237.6L868.0 240.9L861.8 242.4L860.6 246.9M860.6 223.8L864.2 228.2L865.4 232.7L870.2 236.9L872.6 240.9L869.0 243.3M872.6 242.0L869.7 248.2L865.4 251.1M854.8 259.9L859.4 260.8M825.2 165.1L832.9 173.3L846.2 179.5L866.6 182.2L882.2 177.7L894.2 171.1L901.9 170.0L897.9 164.5L894.2 163.8L888.2 163.4L871.4 163.4L849.8 158.9L835.3 162.2L825.2 165.1M902.7 157.8L917.1 157.1L929.1 168.2L938.0 167.3L933.9 174.4L929.1 179.7L928.4 180.4M897.9 164.5L902.7 157.8M913.0 185.5L917.1 182.2L923.1 181.1L927.9 180.0M917.6 190.4L923.1 188.8M825.2 165.1L819.7 170.0L812.5 173.8L806.5 174.6L807.0 180.6L796.9 184.4L792.0 187.7L794.5 191.5M732.4 171.3L728.3 166.7L725.9 165.6L729.5 162.0L739.1 160.0L748.0 162.0L760.8 161.1L762.0 158.3L760.8 154.5L770.4 153.2L780.0 151.4L790.8 154.5L798.1 154.5L802.9 157.8L814.9 161.1L825.2 165.1M741.5 181.1L748.8 182.6L754.8 177.7L748.5 174.4L754.8 173.3L760.8 175.5L769.2 177.7L772.8 181.1L778.8 184.2L784.8 180.4L790.8 179.5L807.0 180.6M748.8 182.6L758.4 180.6L763.7 185.5L769.2 188.6L774.0 191.3M777.1 191.7L778.3 187.7L784.1 183.3L789.6 185.9L792.0 187.7M902.7 157.8L878.6 145.6L854.6 136.8M609.5 196.4L610.5 203.0L605.4 204.1L593.2 210.5L593.2 212.7M634.8 192.4L633.8 197.5L632.1 200.6L636.9 207.2M593.2 213.6L602.3 218.7M574.4 238.7L580.4 237.6L584.8 241.5M598.5 218.7L600.9 239.8M582.8 226.9L585.2 222.0M573.7 243.5L580.9 244.2L573.9 246.6M573.9 246.6L586.7 246.6M582.1 253.1L588.9 253.1L586.4 259.0M588.9 255.7L593.7 257.5L596.1 264.4M606.4 262.8L607.4 256.4L607.1 249.7M616.5 261.0L614.8 256.4L614.3 249.5M617.9 260.4L617.9 254.2L616.3 249.7M593.7 257.5L594.4 251.5L599.2 251.3L600.9 251.1M637.7 269.0L641.3 271.9L641.3 269.2M641.8 271.9L645.4 271.4L649.0 269.2L645.4 279.6L641.8 280.7L642.5 283.0M653.1 269.7L656.9 275.2M642.5 312.4L646.6 311.8L658.6 312.9L664.6 314.0L670.1 313.1L674.9 313.5M667.0 302.9L671.8 302.9L671.8 298.5M667.7 298.9L667.0 302.9M687.4 292.5L693.5 294.9L695.9 295.1M693.5 294.9L693.5 300.7L693.9 305.6M682.6 302.2L687.2 308.4M674.9 313.5L679.0 318.4M662.2 322.8L662.2 328.8L662.2 337.0L653.8 337.4M662.2 328.8L667.0 331.7L675.4 330.6L679.0 327.3L684.8 323.3M662.2 322.8L664.6 314.0M708.4 284.5L704.5 280.7L695.6 276.3L688.6 276.3L685.3 277.2M695.6 276.3L697.1 271.9L698.3 264.1M698.3 264.1L709.1 266.6M712.7 277.9L712.7 267.9M689.1 269.2L695.6 265.2M674.2 225.4L674.2 204.1M636.9 207.2L638.6 219.8M598.5 218.7L602.3 218.7M701.9 242.6L705.5 235.3M716.1 246.4L718.2 248.6M679.0 337.4L681.9 337.7L684.8 339.0L683.6 341.7L680.5 341.4L679.0 339.7L679.0 337.4M690.8 332.6L689.1 331.2L691.3 333.5M953.2 279.9L953.2 294.3M877.7 269.7L881.0 271.9L888.2 270.8L890.6 267.5L895.4 264.8L898.3 264.6M914.4 294.0L914.7 295.1" fill="none" stroke="#b4b4b4" stroke-width="0.45"/>
<path d="M667.5 166.9L668.9 165.3L670.9 162.5L671.8 159.8L676.6 159.1L681.4 159.8L687.4 160.5L690.6 158.7L694.7 158.3L697.1 159.6L699.2 162.0L704.3 162.7L706.2 163.6L710.3 164.2L710.3 167.3L709.6 168.9L706.0 169.8L704.3 169.8L698.3 171.5L698.0 172.7L701.9 173.8L698.7 175.5L694.7 175.5L692.3 173.8L694.7 172.2L690.3 170.9L687.4 171.5L685.3 174.0L681.9 173.3L682.6 171.1L686.2 171.1L685.0 167.8L679.0 167.1L674.0 168.4L668.9 167.8Z" fill="url(#hatch)" stroke="#b9a58a" stroke-width="0.25"/>
<path d="M700.2 194.6L702.4 192.6L705.5 192.6L710.3 192.1L713.2 191.9L715.8 191.7L713.4 193.3L713.2 197.5L707.4 200.1L702.6 202.6L699.9 201.7L701.6 199.2L700.7 197.5Z" fill="#e24b0b" stroke="#b9a58a" stroke-width="0.25"/>
<path d="M715.8 191.7L720.6 191.9L722.3 194.8L724.7 196.6L723.5 198.8L725.9 201.0L729.0 203.7L730.7 207.7L729.3 207.9L726.2 209.6L721.6 209.4L715.1 205.2L707.9 202.6L707.4 200.1L713.2 197.5L713.4 193.3Z" fill="#e5990c" stroke="#b9a58a" stroke-width="0.25"/>
<path d="M716.5 237.8L718.2 246.0L722.3 245.7L730.7 243.1L739.1 239.1L739.6 237.3L741.8 237.1L739.1 232.0L731.9 232.9L727.1 236.4L719.9 235.6L717.5 236.4Z" fill="#e24b0b" stroke="#b9a58a" stroke-width="0.25"/>
<path d="M760.8 195.2L764.4 196.1L769.2 193.3L774.0 191.3L777.6 192.1L782.4 190.8L785.6 190.2L786.3 192.8L794.2 191.5L786.0 193.3L784.8 196.8L780.7 198.8L783.2 200.3L781.2 204.1L774.0 207.9L768.0 209.0L760.8 207.9L760.3 204.3L759.6 199.9Z" fill="url(#hatch)" stroke="#b9a58a" stroke-width="0.25"/>
<path d="M790.8 194.8L795.7 193.3L801.2 195.5L807.0 195.9L805.3 199.9L803.6 202.1L798.1 201.4L795.7 202.6L792.0 200.6Z" fill="#c8c8c8" stroke="#b9a58a" stroke-width="0.25"/>
<path d="M835.8 227.1L837.7 224.3L838.5 220.9L841.6 218.3L843.3 215.0L847.4 212.5L851.0 214.3L850.2 217.6L849.0 220.9L853.4 225.1L855.8 226.5L852.2 228.9L849.3 232.0L848.8 236.4L851.7 239.8L850.5 244.2L852.6 250.8L851.0 252.0L851.2 247.5L849.0 240.4L847.8 236.9L843.7 239.1L841.3 238.2L840.9 234.2L838.9 230.9L836.1 227.6Z" fill="#e5990c" stroke="#b9a58a" stroke-width="0.25"/>
<path d="M826.9 225.8L828.1 223.2L827.4 220.5L826.2 219.2L828.1 218.1L826.9 215.6L830.0 216.5L835.3 218.7L833.6 220.9L834.9 222.0L836.1 227.1L835.3 226.5L834.1 224.3L830.5 225.4Z" fill="#e5990c" stroke="#b9a58a" stroke-width="0.25"/>
<path d="M636.9 207.2L638.1 204.3L641.8 200.8L644.2 201.4L650.7 202.6L651.9 204.8L655.0 205.4L659.8 207.0L662.2 205.4L662.2 202.8L664.6 201.4L669.4 201.9L674.2 204.1L674.2 225.4L674.2 229.8L671.8 230.9L671.8 229.8L652.6 222.3L650.2 223.2L647.8 224.3L642.7 222.0L638.6 219.8L636.9 215.6L637.9 209.9Z" fill="#e5990c" stroke="#b9a58a" stroke-width="0.25"/>
<path d="M584.8 241.5L586.4 239.8L588.9 240.0L591.3 239.8L600.9 239.8L598.5 218.7L602.3 218.7L617.0 227.6L621.8 230.2L624.2 231.6L624.4 236.7L622.8 239.5L614.6 240.9L612.9 240.7L609.3 242.4L606.4 244.2L603.8 244.9L601.1 249.1L599.2 251.3L595.8 251.5L594.1 249.7L593.4 247.5L588.6 247.7L586.7 246.6Z" fill="#e5990c" stroke="#b9a58a" stroke-width="0.25"/>
<path d="M614.6 240.9L622.8 239.5L624.4 236.7L624.2 231.6L628.0 231.1L632.1 227.8L642.7 222.0L647.8 224.3L650.2 223.2L651.4 227.6L652.3 228.9L651.4 236.7L647.8 244.4L644.2 245.1L638.1 245.5L632.1 244.9L626.8 243.8L622.8 248.2L619.9 246.9L617.7 245.3L615.1 243.1Z" fill="#e5990c" stroke="#b9a58a" stroke-width="0.25"/>
<path d="M647.8 244.4L651.4 236.7L652.3 228.9L651.4 227.6L650.2 223.2L652.6 222.3L671.8 230.9L671.8 239.3L668.2 243.1L668.2 246.0L669.4 249.7L666.3 250.6L662.2 254.2L658.6 256.2L653.8 256.8L651.4 257.5L649.0 253.1L651.4 252.0L650.2 247.5L649.0 245.3Z" fill="#e5990c" stroke="#b9a58a" stroke-width="0.25"/>
<path d="M671.8 230.9L674.2 229.8L674.2 225.4L689.8 225.4L702.8 225.4L703.6 229.8L706.7 234.2L703.1 236.4L701.9 242.6L700.7 245.7L696.3 250.8L695.9 253.1L692.3 247.1L691.1 248.4L687.4 252.4L679.0 252.8L676.6 250.8L673.0 255.3L670.6 254.8L668.2 246.0L668.2 243.1L671.8 239.3Z" fill="#e5990c" stroke="#b9a58a" stroke-width="0.25"/>
<path d="M673.0 255.3L676.6 250.8L679.0 252.8L687.4 252.4L691.1 248.4L692.3 247.1L695.9 253.1L696.3 255.3L693.5 256.8L698.3 261.9L694.7 265.7L688.2 266.3L683.8 264.4L680.0 262.6L676.6 259.7L674.7 258.2Z" fill="#e24b0b" stroke="#b9a58a" stroke-width="0.25"/>
<path d="M649.0 260.4L651.4 257.5L653.8 256.8L658.6 256.2L662.2 254.2L666.3 250.6L669.4 249.7L670.6 254.8L673.0 255.3L674.7 258.2L676.6 259.7L680.0 262.6L674.2 263.0L669.2 263.7L663.4 264.4L658.6 266.3L653.8 269.2L652.6 266.3L650.2 265.2Z" fill="#e5990c" stroke="#b9a58a" stroke-width="0.25"/>
<path d="M634.5 263.9L637.7 267.0L637.7 269.0L641.3 269.2L646.6 269.2L653.1 269.7L652.6 266.3L650.2 265.2L649.0 260.4L651.4 257.5L649.0 253.1L651.4 252.0L650.2 247.5L649.0 245.3L647.8 245.1L648.2 247.5L646.1 251.5L644.2 255.3L642.2 258.6L638.1 259.0L636.2 259.7Z" fill="#e5990c" stroke="#b9a58a" stroke-width="0.25"/>
<path d="M620.6 260.1L620.6 253.1L622.8 248.2L626.8 243.8L632.1 244.9L638.1 245.5L644.2 245.1L647.8 244.4L648.2 247.5L646.1 251.5L644.2 255.3L642.2 258.6L638.1 259.0L636.2 259.7L634.5 263.9L630.9 264.4L627.3 263.5L624.9 260.1Z" fill="#e24b0b" stroke="#b9a58a" stroke-width="0.25"/>
<path d="M600.9 251.1L603.8 244.9L606.4 244.2L609.3 242.4L612.9 240.7L614.6 240.9L615.1 243.1L617.7 245.3L619.9 246.9L618.9 248.8L616.3 249.7L612.4 249.5L607.1 249.7L605.4 252.2L602.6 252.2Z" fill="#e5990c" stroke="#b9a58a" stroke-width="0.25"/>
<path d="M693.5 256.8L696.3 255.3L695.9 253.1L696.3 250.8L700.7 245.7L701.9 242.6L704.3 242.4L710.3 242.0L713.9 244.2L716.1 246.4L717.0 250.0L719.9 254.2L729.0 256.4L722.3 263.0L718.7 263.2L715.1 265.2L712.2 264.8L709.1 266.6L705.5 266.1L700.7 264.4L698.3 261.9Z" fill="#e24b0b" stroke="#b9a58a" stroke-width="0.25"/>
<path d="M700.7 245.7L701.9 242.6L704.3 242.4L710.3 242.0L713.9 244.2L716.1 246.4L713.9 249.3L709.1 251.5L704.3 251.5L699.5 248.6Z" fill="url(#hatch)" stroke="#b9a58a" stroke-width="0.25"/>
<path d="M712.7 277.9L715.1 275.9L719.9 271.9L724.7 269.2L729.5 263.0L733.1 258.6L736.3 253.1L736.7 250.8L737.2 248.0L733.1 249.1L729.5 249.3L724.7 250.4L721.1 251.1L718.2 248.6L717.0 250.0L719.9 254.2L729.0 256.4L722.3 263.0L718.7 263.2L715.1 265.2L712.7 267.9Z" fill="#e24b0b" stroke="#b9a58a" stroke-width="0.25"/>
<path d="M643.4 287.4L644.2 286.7L645.4 284.7L651.4 283.0L653.1 278.5L656.9 275.2L657.4 269.7L658.6 266.3L663.4 264.4L669.2 263.7L674.2 263.0L680.0 262.6L683.8 264.4L688.2 266.3L689.1 269.2L685.8 273.0L685.3 277.2L683.8 280.3L684.6 284.1L685.0 287.4L687.4 292.5L682.6 292.9L683.4 296.2L682.6 299.6L685.0 301.1L685.3 303.6L682.6 302.2L679.5 299.8L675.4 299.1L671.8 298.5L667.7 298.9L666.5 295.1L664.6 289.6L662.2 289.6L661.0 291.8L656.2 291.8L654.5 290.0L653.1 287.2L645.4 287.2Z" fill="#e24b0b" stroke="#b9a58a" stroke-width="0.25"/>
<path d="M683.8 280.3L686.2 279.4L688.2 281.4L686.2 283.6L684.6 284.1Z" fill="#1591dc" stroke="#b9a58a" stroke-width="0.25"/>
<path d="M711.5 297.4L711.7 305.1L711.5 308.4L703.1 312.9L699.5 318.4L699.0 322.8L699.7 326.8L693.5 330.6L693.2 333.5L691.1 332.8L690.8 327.3L689.4 323.7L692.3 320.6L693.2 316.2L692.7 311.8L687.2 309.5L687.2 308.4L693.9 305.6L697.1 306.2L699.0 311.3L700.2 309.5L698.7 305.8L697.3 299.6L704.3 299.8Z" fill="#e5990c" stroke="#b9a58a" stroke-width="0.25"/>
<path d="M674.9 313.5L679.0 313.7L683.4 310.4L687.2 309.5L692.7 311.8L693.2 316.2L692.3 320.6L689.4 323.7L684.8 323.3L681.4 321.7L679.5 319.5L676.6 316.8Z" fill="#1591dc" stroke="#b9a58a" stroke-width="0.25"/>
<path d="M732.7 300.7L735.3 308.0L733.9 311.8L730.7 319.5L727.6 329.0L722.8 330.6L719.9 328.4L718.2 322.4L720.9 317.3L719.9 311.8L725.2 309.1L729.0 304.2Z" fill="#e5990c" stroke="#b9a58a" stroke-width="0.25"/>
<path d="M428.2 255.7L429.4 255.1L431.3 253.3L432.5 250.6L434.9 249.7L438.1 249.1L441.0 246.9L442.6 248.0L440.0 249.5L438.8 252.2L438.6 253.7L440.0 256.4L440.0 257.7L445.8 258.6L450.6 260.4L451.8 260.4L451.1 264.1L452.3 269.7L450.1 270.1L445.8 271.4L447.0 274.1L445.8 274.8L447.0 276.8L445.8 282.5L445.0 283.4L441.0 279.4L437.4 277.0L433.3 274.3L428.9 272.3L424.6 270.8L427.7 266.3L428.2 263.0L427.7 259.3L426.8 258.2Z" fill="#1591dc" stroke="#b9a58a" stroke-width="0.25"/>
<path d="M442.6 248.0L441.2 249.7L441.9 251.1L442.9 248.6L445.3 248.4L445.8 247.1L447.0 248.6L449.9 250.0L454.9 250.6L459.0 251.3L461.4 250.4L465.0 250.4L466.0 252.2L467.9 255.3L470.3 255.7L468.6 258.6L466.9 260.4L467.4 263.0L463.1 265.2L458.3 264.8L460.2 268.6L456.6 272.3L453.2 271.4L452.3 269.7L451.1 264.1L451.8 260.4L450.6 260.4L445.8 258.6L440.0 257.7L440.0 256.4L438.6 253.7L438.8 252.2L440.0 249.5Z" fill="#1591dc" stroke="#b9a58a" stroke-width="0.25"/>
<path d="M399.4 240.7L402.0 239.3L407.3 238.9L410.9 239.1L414.0 241.1L410.4 241.5L409.7 243.1L405.6 244.6L403.7 245.5L403.0 244.4L399.4 242.2Z" fill="#1591dc" stroke="#b9a58a" stroke-width="0.25"/>
<path d="M593.2 212.7L582.8 212.7L578.8 216.5L575.9 221.4L573.5 226.9L582.8 226.9L582.8 223.2L585.2 222.0L585.2 216.5L593.2 216.5Z" fill="#c8c8c8" stroke="#b9a58a" stroke-width="0.25"/>
<path d="M698.0 204.5L699.5 202.6L699.5 204.5L698.7 205.0Z" fill="#e5990c" stroke="#b9a58a" stroke-width="0.25"/>
</svg>
<div id="body1" class="a" style="left:384px;top:558.5px;font-size:12px;line-height:1.2;color:#111;-webkit-text-stroke:0.4px #111;transform-origin:0 0;transform:scaleX(1.021)">This dashboard includes all activated clusters and other national health emergencies coordination platforms with a 2021/2022</div>
<div id="body2" class="a" style="left:384px;top:575.2px;font-size:12px;line-height:1.2;color:#111;-webkit-text-stroke:0.4px #111;transform-origin:0 0;transform:scaleX(0.976)">Humanitarian Response Plan.</div>
<div class="a" style="left:227px;top:652px;width:890px;height:55px;background:linear-gradient(90deg,#fff 0%,#ececec 8.2%,#d3d3d3 17.8%,#c3cfd5 22.8%,#a6c6d4 36.3%,#7fbbd6 47.5%,#6bb5d6 53.1%,#4aaed5 59.2%,#0aa2d8 67.5%,#02a0d8 80%,#009fd8 100%)"></div>
<svg class="a" style="left:0;top:0" width="1132" height="716" viewBox="0 0 1132 716">
<defs><pattern id="hatch2" patternUnits="userSpaceOnUse" width="3.4" height="3.4" patternTransform="rotate(45)"><rect width="1" height="3.4" fill="#444"/></pattern></defs>
<text x="485" y="369.6" font-size="8.2" font-weight="bold" fill="#111" font-family="Liberation Sans, sans-serif" textLength="66.4" lengthAdjust="spacingAndGlyphs">Emergency grade*</text>
<rect x="485" y="375.1" width="19.3" height="9" fill="#fdf67d"/>
<text x="508.9" y="382.3" font-size="7.9" fill="#333" font-family="Liberation Sans, sans-serif" textLength="75.3" lengthAdjust="spacingAndGlyphs">Grade 1 / Protracted 1</text>
<rect x="485" y="388.9" width="19.3" height="9" fill="#e5990c"/>
<text x="508.9" y="396.1" font-size="7.9" fill="#333" font-family="Liberation Sans, sans-serif" textLength="75.3" lengthAdjust="spacingAndGlyphs">Grade 2 / Protracted 2</text>
<rect x="485" y="402.5" width="19.3" height="9" fill="#e24b0b"/>
<text x="508.9" y="409.7" font-size="7.9" fill="#333" font-family="Liberation Sans, sans-serif" textLength="75.3" lengthAdjust="spacingAndGlyphs">Grade 3 / Protracted 3</text>
<rect x="485" y="416.0" width="19.3" height="9" fill="#1591dc"/>
<text x="508.9" y="423.2" font-size="7.9" fill="#333" font-family="Liberation Sans, sans-serif" textLength="33.5" lengthAdjust="spacingAndGlyphs">Ungraded</text>
<rect x="598.6" y="377.3" width="19.5" height="9.5" fill="url(#hatch2)"/>
<text x="622.8" y="380.2" font-size="7.9" fill="#333" font-family="Liberation Sans, sans-serif">Active L3 IASC</text>
<text x="622.8" y="390.3" font-size="7.9" fill="#333" font-family="Liberation Sans, sans-serif">System-wide response</text>
<rect x="599.8" y="396.5" width="9.7" height="9.2" fill="none" stroke="#1c7ea6" stroke-width="2.4"/>
<text x="622.8" y="401.4" font-size="7.9" fill="#333" font-family="Liberation Sans, sans-serif">Regional coordination</text>
<text x="622.8" y="410.9" font-size="7.9" fill="#333" font-family="Liberation Sans, sans-serif">mechanisms</text>
<rect x="598.6" y="416.5" width="19.5" height="8.5" fill="#c8c8c8"/>
<text x="622.8" y="423.6" font-size="7.9" fill="#333" font-family="Liberation Sans, sans-serif">Not applicable</text>
<text x="705.9" y="377.3" font-size="5.0" fill="#333" font-family="Liberation Sans, sans-serif" textLength="251" lengthAdjust="spacingAndGlyphs">* The grading reflects the highest level of emergency grade per country for ongoing public health events and</text>
<text x="705.9" y="383.9" font-size="5.0" fill="#333" font-family="Liberation Sans, sans-serif" textLength="77.2" lengthAdjust="spacingAndGlyphs">emergencies excluding COVID-19.</text>
<text x="705.9" y="396.8" font-size="5.0" fill="#333" font-family="Liberation Sans, sans-serif" textLength="249" lengthAdjust="spacingAndGlyphs">A protracted emergency is defined as "an environment in which a significant proportion of the population is</text>
<text x="705.9" y="403.6" font-size="5.0" fill="#333" font-family="Liberation Sans, sans-serif" textLength="236.4" lengthAdjust="spacingAndGlyphs">acutely vulnerable to death, disease and disruption of livelihoods over a prolonged period of time. If a</text>
<text x="705.9" y="410.1" font-size="5.0" fill="#333" font-family="Liberation Sans, sans-serif" textLength="224.7" lengthAdjust="spacingAndGlyphs">graded emergency persists for more than six months it may transition to a protracted emergency.</text>
<text x="705.9" y="423.0" font-size="5.0" fill="#333" font-family="Liberation Sans, sans-serif" textLength="129.9" lengthAdjust="spacingAndGlyphs">Emergency grades are subject to revisions and changes.</text>
<text x="371.9" y="444.3" font-size="6.3" fill="#333" font-family="Liberation Sans, sans-serif" textLength="351.7" lengthAdjust="spacingAndGlyphs">The designations employed and the presentation of the material in this publication do not imply the expression of</text>
<text x="371.9" y="451.4" font-size="6.3" fill="#333" font-family="Liberation Sans, sans-serif" textLength="351.7" lengthAdjust="spacingAndGlyphs">any opinion whatsoever on the part of WHO concerning the legal status of any country, territory, city or area or of its</text>
<text x="371.9" y="458.4" font-size="6.3" fill="#333" font-family="Liberation Sans, sans-serif" textLength="351.7" lengthAdjust="spacingAndGlyphs">authorities, or concerning the delimitation of its frontiers or boundaries. Dotted and dashed lines on maps represent</text>
<text x="371.9" y="465.5" font-size="6.3" fill="#333" font-family="Liberation Sans, sans-serif" textLength="215.7" lengthAdjust="spacingAndGlyphs">approximate border lines for which there may not yet be full agreement.</text>
<text x="755.7" y="444.3" font-size="6.3" fill="#333" font-family="Liberation Sans, sans-serif" textLength="119.5" lengthAdjust="spacingAndGlyphs">Data Source: World Health Organization</text>
<text x="755.7" y="451.4" font-size="6.3" fill="#333" font-family="Liberation Sans, sans-serif" textLength="88.7" lengthAdjust="spacingAndGlyphs">Map Production: WHO Health</text>
<text x="755.7" y="458.5" font-size="6.3" fill="#333" font-family="Liberation Sans, sans-serif" textLength="76.6" lengthAdjust="spacingAndGlyphs">Emergencies Programme</text>
<text x="896.5" y="444.3" font-size="6" fill="#333" font-family="Liberation Sans, sans-serif">0</text>
<text x="940.5" y="444.3" font-size="6" fill="#333" text-anchor="middle" font-family="Liberation Sans, sans-serif">2,000</text>
<text x="983.5" y="444.3" font-size="6" fill="#333" text-anchor="middle" font-family="Liberation Sans, sans-serif">4,000</text>
<rect x="896.7" y="448" width="86.6" height="4.5" fill="#111"/>
<rect x="919.5" y="449.3" width="20.2" height="1.9" fill="#fff"/>
<text x="986.7" y="452.5" font-size="5.5" fill="#333" font-family="Liberation Sans, sans-serif">Km</text>
<g fill="none" stroke="#1a8fd3" stroke-width="0.45"><circle cx="1032.80" cy="449.60" r="10.00"/><circle cx="1032.80" cy="449.60" r="7.20"/><circle cx="1032.80" cy="449.60" r="4.50"/><line x1="1022.80" y1="449.60" x2="1042.80" y2="449.60" stroke-width="0.27"/><line x1="1025.73" y1="442.53" x2="1039.87" y2="456.67" stroke-width="0.27"/><line x1="1032.80" y1="439.60" x2="1032.80" y2="459.60" stroke-width="0.27"/><line x1="1039.87" y1="442.53" x2="1025.73" y2="456.67" stroke-width="0.27"/></g><path d="M1025.80 451.10L1028.30 450.60L1030.30 451.80L1030.80 453.80L1029.00 454.60L1027.00 453.40Z" fill="#1a8fd3"/><path d="M1034.00 446.60L1037.00 446.10L1038.30 448.60L1037.30 451.40L1036.00 454.60L1034.60 454.40L1034.20 451.40L1034.80 449.10Z" fill="#1a8fd3"/><path d="M1029.00 445.40L1031.60 444.10L1032.80 445.60L1030.80 446.80Z" fill="#1a8fd3"/><line x1="1032.80" y1="436.40" x2="1032.80" y2="459.10" stroke="#1a8fd3" stroke-width="1.60"/><path d="M1029.30 440.10Q1037.30 440.60 1035.80 445.10Q1033.80 448.60 1029.80 450.10Q1027.80 453.10 1034.80 453.60Q1037.30 455.10 1031.80 457.10" fill="none" stroke="#1a8fd3" stroke-width="1.30"/><path d="M1025.34 439.95L1023.45 441.57L1021.90 443.52L1020.75 445.73L1020.04 448.12L1019.80 450.60L1020.04 453.08L1020.75 455.47L1021.90 457.68L1023.45 459.63L1025.34 461.25L1027.51 462.48" fill="none" stroke="#1a8fd3" stroke-width="0.40"/><ellipse cx="1025.60" cy="441.38" rx="0.62" ry="1.60" transform="rotate(80.0 1025.60 441.38)" fill="#1a8fd3"/><ellipse cx="1024.00" cy="439.33" rx="0.62" ry="1.60" transform="rotate(24.0 1024.00 439.33)" fill="#1a8fd3"/><ellipse cx="1023.58" cy="443.40" rx="0.62" ry="1.60" transform="rotate(66.0 1023.58 443.40)" fill="#1a8fd3"/><ellipse cx="1021.53" cy="441.80" rx="0.62" ry="1.60" transform="rotate(10.0 1021.53 441.80)" fill="#1a8fd3"/><ellipse cx="1022.11" cy="445.84" rx="0.62" ry="1.60" transform="rotate(52.0 1022.11 445.84)" fill="#1a8fd3"/><ellipse cx="1019.74" cy="444.78" rx="0.62" ry="1.60" transform="rotate(-4.0 1019.74 444.78)" fill="#1a8fd3"/><ellipse cx="1021.28" cy="448.57" rx="0.62" ry="1.60" transform="rotate(38.0 1021.28 448.57)" fill="#1a8fd3"/><ellipse cx="1018.72" cy="448.12" rx="0.62" ry="1.60" transform="rotate(-18.0 1018.72 448.12)" fill="#1a8fd3"/><ellipse cx="1021.13" cy="451.42" rx="0.62" ry="1.60" transform="rotate(24.0 1021.13 451.42)" fill="#1a8fd3"/><ellipse cx="1018.53" cy="451.60" rx="0.62" ry="1.60" transform="rotate(-32.0 1018.53 451.60)" fill="#1a8fd3"/><ellipse cx="1021.67" cy="454.22" rx="0.62" ry="1.60" transform="rotate(10.0 1021.67 454.22)" fill="#1a8fd3"/><ellipse cx="1019.20" cy="455.02" rx="0.62" ry="1.60" transform="rotate(-46.0 1019.20 455.02)" fill="#1a8fd3"/><ellipse cx="1022.88" cy="456.80" rx="0.62" ry="1.60" transform="rotate(-4.0 1022.88 456.80)" fill="#1a8fd3"/><ellipse cx="1020.67" cy="458.18" rx="0.62" ry="1.60" transform="rotate(-60.0 1020.67 458.18)" fill="#1a8fd3"/><ellipse cx="1024.67" cy="459.02" rx="0.62" ry="1.60" transform="rotate(-18.0 1024.67 459.02)" fill="#1a8fd3"/><ellipse cx="1022.87" cy="460.89" rx="0.62" ry="1.60" transform="rotate(-74.0 1022.87 460.89)" fill="#1a8fd3"/><ellipse cx="1026.95" cy="460.73" rx="0.62" ry="1.60" transform="rotate(-32.0 1026.95 460.73)" fill="#1a8fd3"/><ellipse cx="1025.65" cy="462.98" rx="0.62" ry="1.60" transform="rotate(-88.0 1025.65 462.98)" fill="#1a8fd3"/><path d="M1040.26 439.95L1042.15 441.57L1043.70 443.52L1044.85 445.73L1045.56 448.12L1045.80 450.60L1045.56 453.08L1044.85 455.47L1043.70 457.68L1042.15 459.63L1040.26 461.25L1038.09 462.48" fill="none" stroke="#1a8fd3" stroke-width="0.40"/><ellipse cx="1040.00" cy="441.38" rx="0.62" ry="1.60" transform="rotate(-80.0 1040.00 441.38)" fill="#1a8fd3"/><ellipse cx="1041.60" cy="439.33" rx="0.62" ry="1.60" transform="rotate(-24.0 1041.60 439.33)" fill="#1a8fd3"/><ellipse cx="1042.02" cy="443.40" rx="0.62" ry="1.60" transform="rotate(-66.0 1042.02 443.40)" fill="#1a8fd3"/><ellipse cx="1044.07" cy="441.80" rx="0.62" ry="1.60" transform="rotate(-10.0 1044.07 441.80)" fill="#1a8fd3"/><ellipse cx="1043.49" cy="445.84" rx="0.62" ry="1.60" transform="rotate(-52.0 1043.49 445.84)" fill="#1a8fd3"/><ellipse cx="1045.86" cy="444.78" rx="0.62" ry="1.60" transform="rotate(4.0 1045.86 444.78)" fill="#1a8fd3"/><ellipse cx="1044.32" cy="448.57" rx="0.62" ry="1.60" transform="rotate(-38.0 1044.32 448.57)" fill="#1a8fd3"/><ellipse cx="1046.88" cy="448.12" rx="0.62" ry="1.60" transform="rotate(18.0 1046.88 448.12)" fill="#1a8fd3"/><ellipse cx="1044.47" cy="451.42" rx="0.62" ry="1.60" transform="rotate(-24.0 1044.47 451.42)" fill="#1a8fd3"/><ellipse cx="1047.07" cy="451.60" rx="0.62" ry="1.60" transform="rotate(32.0 1047.07 451.60)" fill="#1a8fd3"/><ellipse cx="1043.93" cy="454.22" rx="0.62" ry="1.60" transform="rotate(-10.0 1043.93 454.22)" fill="#1a8fd3"/><ellipse cx="1046.40" cy="455.02" rx="0.62" ry="1.60" transform="rotate(46.0 1046.40 455.02)" fill="#1a8fd3"/><ellipse cx="1042.72" cy="456.80" rx="0.62" ry="1.60" transform="rotate(4.0 1042.72 456.80)" fill="#1a8fd3"/><ellipse cx="1044.93" cy="458.18" rx="0.62" ry="1.60" transform="rotate(60.0 1044.93 458.18)" fill="#1a8fd3"/><ellipse cx="1040.93" cy="459.02" rx="0.62" ry="1.60" transform="rotate(18.0 1040.93 459.02)" fill="#1a8fd3"/><ellipse cx="1042.73" cy="460.89" rx="0.62" ry="1.60" transform="rotate(74.0 1042.73 460.89)" fill="#1a8fd3"/><ellipse cx="1038.65" cy="460.73" rx="0.62" ry="1.60" transform="rotate(32.0 1038.65 460.73)" fill="#1a8fd3"/><ellipse cx="1039.95" cy="462.98" rx="0.62" ry="1.60" transform="rotate(88.0 1039.95 462.98)" fill="#1a8fd3"/><path d="M1023.30 460.80Q1032.80 462.80 1042.30 460.80" fill="none" stroke="#1a8fd3" stroke-width="1.20"/>
<text x="1052" y="448.8" font-size="11" font-weight="bold" fill="#1a8fd3" font-family="Liberation Sans, sans-serif" textLength="59.6" lengthAdjust="spacingAndGlyphs">World Health</text>
<text x="1052" y="458" font-size="11" font-weight="bold" fill="#1a8fd3" font-family="Liberation Sans, sans-serif" textLength="59.6" lengthAdjust="spacingAndGlyphs">Organization</text>
<text x="1021" y="470.5" font-size="5.8" fill="#444" font-family="Liberation Sans, sans-serif" textLength="91.6" lengthAdjust="spacingAndGlyphs">© WHO 2022. All rights reserved.</text>
<text x="688.8" y="167.4" font-size="5.4" fill="#2e2e2e" text-anchor="middle" font-family="Liberation Sans, sans-serif">Ukraine</text>
<text x="708.7" y="181.7" font-size="5.4" fill="#555" text-anchor="middle" font-family="Liberation Sans, sans-serif">Syrian Arab</text>
<text x="709.7" y="188.4" font-size="5.4" fill="#555" text-anchor="middle" font-family="Liberation Sans, sans-serif">Republic</text>
<text x="685.7" y="193.4" font-size="5.4" fill="#555" text-anchor="middle" font-family="Liberation Sans, sans-serif">Gaziantep</text>
<text x="723.3" y="207.2" font-size="5.4" fill="#2e2e2e" text-anchor="middle" font-family="Liberation Sans, sans-serif">Iraq</text>
<text x="707.6" y="216.7" font-size="5.4" fill="#555" text-anchor="middle" font-family="Liberation Sans, sans-serif">Occupied</text>
<text x="720.2" y="223.6" font-size="5.4" fill="#555" text-anchor="middle" font-family="Liberation Sans, sans-serif">Palestinian territory,</text>
<text x="725.4" y="229.9" font-size="5.4" fill="#555" text-anchor="middle" font-family="Liberation Sans, sans-serif">including east Jerusalem</text>
<text x="655.3" y="215.8" font-size="5.4" fill="#2e2e2e" text-anchor="middle" font-family="Liberation Sans, sans-serif">Libya</text>
<text x="609.8" y="236.1" font-size="5.4" fill="#2e2e2e" text-anchor="middle" font-family="Liberation Sans, sans-serif">Mali</text>
<text x="635.8" y="237.2" font-size="5.4" fill="#2e2e2e" text-anchor="middle" font-family="Liberation Sans, sans-serif">Niger</text>
<text x="659.5" y="243.1" font-size="5.4" fill="#2e2e2e" text-anchor="middle" font-family="Liberation Sans, sans-serif">Chad</text>
<text x="686.3" y="240.3" font-size="5.4" fill="#2e2e2e" text-anchor="middle" font-family="Liberation Sans, sans-serif">Sudan</text>
<text x="604" y="249.8" font-size="5.4" fill="#2e2e2e" text-anchor="middle" font-family="Liberation Sans, sans-serif">Burkina Faso</text>
<text x="662.6" y="250.8" font-size="5.4" fill="#2e2e2e" text-anchor="middle" font-family="Liberation Sans, sans-serif">Central</text>
<text x="662.6" y="257.5" font-size="5.4" fill="#2e2e2e" text-anchor="middle" font-family="Liberation Sans, sans-serif">African</text>
<text x="662.6" y="264.0" font-size="5.4" fill="#2e2e2e" text-anchor="middle" font-family="Liberation Sans, sans-serif">Republic</text>
<text x="633.3" y="255.6" font-size="5.4" fill="#2e2e2e" text-anchor="middle" font-family="Liberation Sans, sans-serif">Nigeria</text>
<text x="640.6" y="264.4" font-size="5.4" fill="#2e2e2e" text-anchor="middle" font-family="Liberation Sans, sans-serif">Cameroon</text>
<text x="689.4" y="259.8" font-size="5.4" fill="#2e2e2e" text-anchor="middle" font-family="Liberation Sans, sans-serif">South Sudan</text>
<text x="710.4" y="252.9" font-size="5.4" fill="#2e2e2e" text-anchor="middle" font-family="Liberation Sans, sans-serif">Ethiopia</text>
<text x="728.6" y="241.0" font-size="5.4" fill="#2e2e2e" text-anchor="middle" font-family="Liberation Sans, sans-serif">Yemen</text>
<text x="719.2" y="268.2" font-size="5.4" fill="#2e2e2e" text-anchor="middle" font-family="Liberation Sans, sans-serif">Somalia</text>
<text x="671" y="273.2" font-size="5.4" fill="#2e2e2e" text-anchor="middle" font-family="Liberation Sans, sans-serif">Democratic</text>
<text x="673.1" y="279.7" font-size="5.4" fill="#2e2e2e" text-anchor="middle" font-family="Liberation Sans, sans-serif">Republic</text>
<text x="668.9" y="286.0" font-size="5.4" fill="#2e2e2e" text-anchor="middle" font-family="Liberation Sans, sans-serif">of the Congo</text>
<text x="696.1" y="283.7" font-size="5.4" fill="#555" text-anchor="middle" font-family="Liberation Sans, sans-serif">Burundi</text>
<text x="700.7" y="309.5" font-size="5.4" fill="#555" text-anchor="middle" font-family="Liberation Sans, sans-serif">Mozambique</text>
<text x="686.7" y="317.9" font-size="5.4" fill="#2e2e2e" text-anchor="middle" font-family="Liberation Sans, sans-serif">Zimbabwe</text>
<text x="722.9" y="316.9" font-size="5.4" fill="#555" text-anchor="middle" font-family="Liberation Sans, sans-serif">Madagascar</text>
<text x="406.5" y="243.9" font-size="5.4" fill="#2e2e2e" text-anchor="middle" font-family="Liberation Sans, sans-serif">Honduras</text>
<text x="441.4" y="245.4" font-size="5.4" fill="#555" text-anchor="middle" font-family="Liberation Sans, sans-serif">Venezuela</text>
<text x="442.5" y="251.6" font-size="5.4" fill="#555" text-anchor="middle" font-family="Liberation Sans, sans-serif">(Bolivarian</text>
<text x="442.1" y="258.3" font-size="5.4" fill="#2e2e2e" text-anchor="middle" font-family="Liberation Sans, sans-serif">Republic of)</text>
<text x="437.3" y="265.7" font-size="5.4" fill="#2e2e2e" text-anchor="middle" font-family="Liberation Sans, sans-serif">Colombia</text>
<text x="771.2" y="199.8" font-size="5.4" fill="#2e2e2e" text-anchor="middle" font-family="Liberation Sans, sans-serif">Afghanistan</text>
<text x="829.3" y="219.6" font-size="5.4" fill="#555" text-anchor="middle" font-family="Liberation Sans, sans-serif">Bangladesh</text>
<text x="846.6" y="229.6" font-size="5.4" fill="#2e2e2e" text-anchor="middle" font-family="Liberation Sans, sans-serif">Myanmar</text>
<text x="673.1" y="201" font-size="5.6" fill="#3a6fc0" text-anchor="middle" font-family="Liberation Sans, sans-serif">Whole of Syria</text>
<path d="M698.5 191.4H704" stroke="#777" stroke-width="0.4"/><circle cx="704.5" cy="191.1" r="0.9" fill="#e24b0b"/>
<rect x="694.4" y="201.1" width="8.4" height="8.4" fill="none" stroke="#1c7ea6" stroke-width="2.1"/>
<rect x="1038.3" y="309.7" width="8.4" height="8.4" fill="none" stroke="#1c7ea6" stroke-width="2.1"/>
<text x="1053" y="308.7" font-size="5.2" fill="#3a6fc0" font-family="Liberation Sans, sans-serif">Pacific Regional</text>
<text x="1053" y="315" font-size="5.2" fill="#3a6fc0" font-family="Liberation Sans, sans-serif">Cluster System</text>
<g fill="none" stroke="#fff" stroke-width="0.68"><circle cx="973.20" cy="678.70" r="15.20"/><circle cx="973.20" cy="678.70" r="10.94"/><circle cx="973.20" cy="678.70" r="6.84"/><line x1="958.00" y1="678.70" x2="988.40" y2="678.70" stroke-width="0.41"/><line x1="962.45" y1="667.95" x2="983.95" y2="689.45" stroke-width="0.41"/><line x1="973.20" y1="663.50" x2="973.20" y2="693.90" stroke-width="0.41"/><line x1="983.95" y1="667.95" x2="962.45" y2="689.45" stroke-width="0.41"/></g><path d="M962.56 680.98L966.36 680.22L969.40 682.04L970.16 685.08L967.42 686.30L964.38 684.48Z" fill="#fff"/><path d="M975.02 674.14L979.58 673.38L981.56 677.18L980.04 681.44L978.06 686.30L975.94 686.00L975.33 681.44L976.24 677.94Z" fill="#fff"/><path d="M967.42 672.32L971.38 670.34L973.20 672.62L970.16 674.44Z" fill="#fff"/><line x1="973.20" y1="658.64" x2="973.20" y2="693.14" stroke="#fff" stroke-width="2.43"/><path d="M967.88 664.26Q980.04 665.02 977.76 671.86Q974.72 677.18 968.64 679.46Q965.60 684.02 976.24 684.78Q980.04 687.06 971.68 690.10" fill="none" stroke="#fff" stroke-width="1.98"/><path d="M961.87 664.03L958.99 666.49L956.63 669.46L954.88 672.82L953.80 676.45L953.44 680.22L953.80 683.99L954.88 687.62L956.63 690.98L958.99 693.95L961.87 696.41L965.16 698.27" fill="none" stroke="#fff" stroke-width="0.61"/><ellipse cx="962.25" cy="666.21" rx="0.94" ry="2.43" transform="rotate(80.0 962.25 666.21)" fill="#fff"/><ellipse cx="959.82" cy="663.09" rx="0.94" ry="2.43" transform="rotate(24.0 959.82 663.09)" fill="#fff"/><ellipse cx="959.19" cy="669.27" rx="0.94" ry="2.43" transform="rotate(66.0 959.19 669.27)" fill="#fff"/><ellipse cx="956.07" cy="666.84" rx="0.94" ry="2.43" transform="rotate(10.0 956.07 666.84)" fill="#fff"/><ellipse cx="956.95" cy="672.99" rx="0.94" ry="2.43" transform="rotate(52.0 956.95 672.99)" fill="#fff"/><ellipse cx="953.34" cy="671.38" rx="0.94" ry="2.43" transform="rotate(-4.0 953.34 671.38)" fill="#fff"/><ellipse cx="955.69" cy="677.13" rx="0.94" ry="2.43" transform="rotate(38.0 955.69 677.13)" fill="#fff"/><ellipse cx="951.79" cy="676.45" rx="0.94" ry="2.43" transform="rotate(-18.0 951.79 676.45)" fill="#fff"/><ellipse cx="955.46" cy="681.46" rx="0.94" ry="2.43" transform="rotate(24.0 955.46 681.46)" fill="#fff"/><ellipse cx="951.52" cy="681.74" rx="0.94" ry="2.43" transform="rotate(-32.0 951.52 681.74)" fill="#fff"/><ellipse cx="956.29" cy="685.72" rx="0.94" ry="2.43" transform="rotate(10.0 956.29 685.72)" fill="#fff"/><ellipse cx="952.53" cy="686.94" rx="0.94" ry="2.43" transform="rotate(-46.0 952.53 686.94)" fill="#fff"/><ellipse cx="958.12" cy="689.64" rx="0.94" ry="2.43" transform="rotate(-4.0 958.12 689.64)" fill="#fff"/><ellipse cx="954.77" cy="691.74" rx="0.94" ry="2.43" transform="rotate(-60.0 954.77 691.74)" fill="#fff"/><ellipse cx="960.85" cy="693.01" rx="0.94" ry="2.43" transform="rotate(-18.0 960.85 693.01)" fill="#fff"/><ellipse cx="958.10" cy="695.86" rx="0.94" ry="2.43" transform="rotate(-74.0 958.10 695.86)" fill="#fff"/><ellipse cx="964.31" cy="695.62" rx="0.94" ry="2.43" transform="rotate(-32.0 964.31 695.62)" fill="#fff"/><ellipse cx="962.33" cy="699.04" rx="0.94" ry="2.43" transform="rotate(-88.0 962.33 699.04)" fill="#fff"/><path d="M984.53 664.03L987.41 666.49L989.77 669.46L991.52 672.82L992.60 676.45L992.96 680.22L992.60 683.99L991.52 687.62L989.77 690.98L987.41 693.95L984.53 696.41L981.24 698.27" fill="none" stroke="#fff" stroke-width="0.61"/><ellipse cx="984.15" cy="666.21" rx="0.94" ry="2.43" transform="rotate(-80.0 984.15 666.21)" fill="#fff"/><ellipse cx="986.58" cy="663.09" rx="0.94" ry="2.43" transform="rotate(-24.0 986.58 663.09)" fill="#fff"/><ellipse cx="987.21" cy="669.27" rx="0.94" ry="2.43" transform="rotate(-66.0 987.21 669.27)" fill="#fff"/><ellipse cx="990.33" cy="666.84" rx="0.94" ry="2.43" transform="rotate(-10.0 990.33 666.84)" fill="#fff"/><ellipse cx="989.45" cy="672.99" rx="0.94" ry="2.43" transform="rotate(-52.0 989.45 672.99)" fill="#fff"/><ellipse cx="993.06" cy="671.38" rx="0.94" ry="2.43" transform="rotate(4.0 993.06 671.38)" fill="#fff"/><ellipse cx="990.71" cy="677.13" rx="0.94" ry="2.43" transform="rotate(-38.0 990.71 677.13)" fill="#fff"/><ellipse cx="994.61" cy="676.45" rx="0.94" ry="2.43" transform="rotate(18.0 994.61 676.45)" fill="#fff"/><ellipse cx="990.94" cy="681.46" rx="0.94" ry="2.43" transform="rotate(-24.0 990.94 681.46)" fill="#fff"/><ellipse cx="994.88" cy="681.74" rx="0.94" ry="2.43" transform="rotate(32.0 994.88 681.74)" fill="#fff"/><ellipse cx="990.11" cy="685.72" rx="0.94" ry="2.43" transform="rotate(-10.0 990.11 685.72)" fill="#fff"/><ellipse cx="993.87" cy="686.94" rx="0.94" ry="2.43" transform="rotate(46.0 993.87 686.94)" fill="#fff"/><ellipse cx="988.28" cy="689.64" rx="0.94" ry="2.43" transform="rotate(4.0 988.28 689.64)" fill="#fff"/><ellipse cx="991.63" cy="691.74" rx="0.94" ry="2.43" transform="rotate(60.0 991.63 691.74)" fill="#fff"/><ellipse cx="985.55" cy="693.01" rx="0.94" ry="2.43" transform="rotate(18.0 985.55 693.01)" fill="#fff"/><ellipse cx="988.30" cy="695.86" rx="0.94" ry="2.43" transform="rotate(74.0 988.30 695.86)" fill="#fff"/><ellipse cx="982.09" cy="695.62" rx="0.94" ry="2.43" transform="rotate(32.0 982.09 695.62)" fill="#fff"/><ellipse cx="984.07" cy="699.04" rx="0.94" ry="2.43" transform="rotate(88.0 984.07 699.04)" fill="#fff"/><path d="M958.76 695.72Q973.20 698.76 987.64 695.72" fill="none" stroke="#fff" stroke-width="1.82"/>
<text x="1000.5" y="678.6" font-size="15.5" font-weight="bold" fill="#fff" font-family="Liberation Sans, sans-serif" textLength="87.5" lengthAdjust="spacingAndGlyphs">World Health</text>
<text x="1000.5" y="692.8" font-size="15.5" font-weight="bold" fill="#fff" font-family="Liberation Sans, sans-serif" textLength="87.5" lengthAdjust="spacingAndGlyphs">Organization</text>
</svg>
<svg style="position:absolute;left:0;top:640" width="100" height="76" viewBox="-61 -39 100 76"><path d="M5.14 3.88L6.42 4.40L7.77 4.80L9.19 5.07L10.66 5.22L12.17 5.22L13.71 5.09L15.28 4.81L16.85 4.38L18.42 3.80L19.97 3.07L21.50 2.19L22.98 1.15L24.41 -0.03L25.78 -1.36L24.03 -2.87L22.92 -1.55L21.72 -0.35L20.47 0.72L19.15 1.67L17.79 2.48L16.39 3.17L14.97 3.72L13.53 4.13L12.09 4.41L10.66 4.55L9.24 4.56L7.84 4.43L6.49 4.17L5.19 3.78Z" fill="#1ba0db"/><path d="M3.93 5.04L5.03 5.86L6.23 6.58L7.53 7.21L8.91 7.71L10.37 8.10L11.90 8.36L13.48 8.48L15.12 8.46L16.79 8.30L18.48 7.98L20.19 7.51L21.90 6.89L23.60 6.10L25.27 5.16L23.97 3.26L22.54 4.25L21.07 5.11L19.57 5.83L18.04 6.42L16.51 6.86L14.98 7.17L13.46 7.35L11.96 7.39L10.50 7.29L9.07 7.07L7.70 6.72L6.39 6.25L5.15 5.66L4.00 4.95Z" fill="#1ba0db"/><path d="M2.45 5.86L3.30 6.92L4.26 7.92L5.35 8.85L6.55 9.69L7.86 10.43L9.27 11.06L10.77 11.58L12.35 11.97L14.01 12.23L15.74 12.35L17.51 12.33L19.33 12.15L21.18 11.82L23.04 11.33L22.27 9.16L20.63 9.76L18.97 10.22L17.33 10.54L15.70 10.73L14.11 10.77L12.55 10.69L11.03 10.48L9.58 10.14L8.19 9.68L6.87 9.11L5.64 8.43L4.51 7.64L3.47 6.76L2.54 5.79Z" fill="#231f20"/><path d="M0.81 6.27L1.34 7.51L2.01 8.72L2.81 9.89L3.74 11.00L4.81 12.05L6.01 13.01L7.32 13.89L8.75 14.66L10.28 15.33L11.92 15.88L13.64 16.30L15.44 16.59L17.32 16.74L19.25 16.73L19.05 14.44L17.30 14.61L15.58 14.64L13.91 14.53L12.29 14.30L10.74 13.95L9.26 13.47L7.86 12.89L6.54 12.20L5.32 11.41L4.21 10.52L3.20 9.56L2.31 8.51L1.55 7.40L0.91 6.23Z" fill="#231f20"/><path d="M-0.89 6.26L-0.71 7.59L-0.39 8.93L0.07 10.26L0.68 11.56L1.44 12.84L2.33 14.07L3.37 15.25L4.54 16.36L5.85 17.39L7.28 18.33L8.84 19.18L10.51 19.91L12.28 20.52L14.15 21.00L14.53 18.73L12.80 18.45L11.13 18.05L9.55 17.53L8.05 16.90L6.64 16.17L5.34 15.34L4.14 14.42L3.06 13.42L2.10 12.36L1.25 11.22L0.54 10.04L-0.04 8.80L-0.48 7.54L-0.78 6.25Z" fill="#231f20"/><path d="M-2.53 5.82L-2.71 7.15L-2.76 8.52L-2.66 9.92L-2.43 11.34L-2.04 12.76L-1.50 14.18L-0.81 15.57L0.03 16.94L1.02 18.27L2.15 19.54L3.43 20.74L4.85 21.87L6.40 22.90L8.08 23.84L9.02 21.74L7.42 21.04L5.93 20.23L4.54 19.33L3.26 18.35L2.10 17.29L1.06 16.16L0.15 14.97L-0.63 13.74L-1.27 12.47L-1.78 11.16L-2.16 9.83L-2.39 8.50L-2.48 7.16L-2.42 5.84Z" fill="#231f20"/><path d="M-4.00 4.99L-4.53 6.23L-4.94 7.54L-5.22 8.91L-5.37 10.34L-5.37 11.81L-5.23 13.31L-4.94 14.83L-4.49 16.36L-3.89 17.89L-3.13 19.41L-2.22 20.89L-1.14 22.33L0.08 23.72L1.45 25.05L2.90 23.27L1.55 22.18L0.32 21.03L-0.78 19.82L-1.75 18.55L-2.59 17.23L-3.29 15.88L-3.85 14.51L-4.27 13.12L-4.56 11.73L-4.70 10.34L-4.71 8.96L-4.57 7.61L-4.30 6.30L-3.90 5.03Z" fill="#231f20"/><path d="M-5.19 3.81L-6.03 4.88L-6.78 6.04L-7.42 7.29L-7.94 8.63L-8.34 10.05L-8.60 11.54L-8.73 13.08L-8.70 14.67L-8.53 16.30L-8.20 17.95L-7.71 19.61L-7.06 21.28L-6.25 22.93L-5.27 24.56L-3.41 23.21L-4.43 21.83L-5.31 20.40L-6.05 18.95L-6.64 17.48L-7.10 16.00L-7.42 14.53L-7.59 13.06L-7.63 11.61L-7.53 10.19L-7.30 8.81L-6.94 7.48L-6.45 6.21L-5.84 5.00L-5.10 3.88Z" fill="#231f20"/><path d="M-6.03 2.38L-7.13 3.19L-8.16 4.13L-9.11 5.18L-9.97 6.34L-10.74 7.61L-11.39 8.98L-11.92 10.43L-12.32 11.97L-12.59 13.59L-12.71 15.27L-12.68 17.00L-12.50 18.77L-12.15 20.57L-11.64 22.38L-9.49 21.57L-10.10 19.98L-10.57 18.39L-10.90 16.80L-11.08 15.23L-11.13 13.69L-11.04 12.18L-10.82 10.71L-10.47 9.30L-9.99 7.96L-9.40 6.68L-8.70 5.48L-7.88 4.38L-6.97 3.37L-5.97 2.47Z" fill="#231f20"/><path d="M-6.46 0.78L-7.74 1.30L-8.99 1.94L-10.18 2.71L-11.33 3.62L-12.40 4.65L-13.39 5.81L-14.29 7.08L-15.09 8.47L-15.78 9.96L-16.35 11.54L-16.78 13.22L-17.07 14.98L-17.22 16.80L-17.21 18.68L-14.92 18.47L-15.09 16.78L-15.12 15.12L-15.01 13.51L-14.77 11.94L-14.40 10.44L-13.91 9.00L-13.31 7.64L-12.59 6.36L-11.78 5.18L-10.86 4.10L-9.86 3.12L-8.78 2.25L-7.63 1.50L-6.42 0.89Z" fill="#231f20"/><path d="M-6.45 -0.87L-7.82 -0.69L-9.20 -0.38L-10.56 0.06L-11.91 0.65L-13.22 1.38L-14.49 2.24L-15.70 3.24L-16.84 4.38L-17.90 5.65L-18.87 7.04L-19.73 8.54L-20.49 10.16L-21.12 11.89L-21.61 13.70L-19.35 14.11L-19.06 12.44L-18.64 10.83L-18.11 9.29L-17.46 7.84L-16.70 6.47L-15.84 5.21L-14.89 4.04L-13.86 2.99L-12.75 2.05L-11.58 1.23L-10.36 0.53L-9.08 -0.03L-7.77 -0.46L-6.44 -0.75Z" fill="#1ba0db"/><path d="M-6.00 -2.46L-7.37 -2.63L-8.79 -2.68L-10.22 -2.59L-11.68 -2.36L-13.14 -1.99L-14.60 -1.47L-16.03 -0.81L-17.44 0.00L-18.80 0.96L-20.11 2.05L-21.34 3.29L-22.50 4.66L-23.57 6.17L-24.53 7.80L-22.46 8.79L-21.73 7.24L-20.90 5.79L-19.97 4.44L-18.95 3.19L-17.85 2.07L-16.69 1.06L-15.46 0.17L-14.18 -0.59L-12.86 -1.22L-11.51 -1.72L-10.14 -2.08L-8.76 -2.31L-7.38 -2.40L-6.02 -2.35Z" fill="#1ba0db"/><path d="M-5.14 -3.88L-6.42 -4.40L-7.77 -4.80L-9.19 -5.07L-10.66 -5.22L-12.17 -5.22L-13.71 -5.09L-15.28 -4.81L-16.85 -4.38L-18.42 -3.80L-19.97 -3.07L-21.50 -2.19L-22.98 -1.15L-24.41 0.03L-25.78 1.36L-24.03 2.87L-22.92 1.55L-21.72 0.35L-20.47 -0.72L-19.15 -1.67L-17.79 -2.48L-16.39 -3.17L-14.97 -3.72L-13.53 -4.13L-12.09 -4.41L-10.66 -4.55L-9.24 -4.56L-7.84 -4.43L-6.49 -4.17L-5.19 -3.78Z" fill="#1ba0db"/><path d="M-3.93 -5.04L-5.03 -5.86L-6.23 -6.58L-7.53 -7.21L-8.91 -7.71L-10.37 -8.10L-11.90 -8.36L-13.48 -8.48L-15.12 -8.46L-16.79 -8.30L-18.48 -7.98L-20.19 -7.51L-21.90 -6.89L-23.60 -6.10L-25.27 -5.16L-23.97 -3.26L-22.54 -4.25L-21.07 -5.11L-19.57 -5.83L-18.04 -6.42L-16.51 -6.86L-14.98 -7.17L-13.46 -7.35L-11.96 -7.39L-10.50 -7.29L-9.07 -7.07L-7.70 -6.72L-6.39 -6.25L-5.15 -5.66L-4.00 -4.95Z" fill="#1ba0db"/><path d="M-2.45 -5.86L-3.30 -6.92L-4.26 -7.92L-5.35 -8.85L-6.55 -9.69L-7.86 -10.43L-9.27 -11.06L-10.77 -11.58L-12.35 -11.97L-14.01 -12.23L-15.74 -12.35L-17.51 -12.33L-19.33 -12.15L-21.18 -11.82L-23.04 -11.33L-22.27 -9.16L-20.63 -9.76L-18.97 -10.22L-17.33 -10.54L-15.70 -10.73L-14.11 -10.77L-12.55 -10.69L-11.03 -10.48L-9.58 -10.14L-8.19 -9.68L-6.87 -9.11L-5.64 -8.43L-4.51 -7.64L-3.47 -6.76L-2.54 -5.79Z" fill="#231f20"/><path d="M-0.81 -6.27L-1.34 -7.51L-2.01 -8.72L-2.81 -9.89L-3.74 -11.00L-4.81 -12.05L-6.01 -13.01L-7.32 -13.89L-8.75 -14.66L-10.28 -15.33L-11.92 -15.88L-13.64 -16.30L-15.44 -16.59L-17.32 -16.74L-19.25 -16.73L-19.05 -14.44L-17.30 -14.61L-15.58 -14.64L-13.91 -14.53L-12.29 -14.30L-10.74 -13.95L-9.26 -13.47L-7.86 -12.89L-6.54 -12.20L-5.32 -11.41L-4.21 -10.52L-3.20 -9.56L-2.31 -8.51L-1.55 -7.40L-0.91 -6.23Z" fill="#231f20"/><path d="M0.89 -6.26L0.71 -7.59L0.39 -8.93L-0.07 -10.26L-0.68 -11.56L-1.44 -12.84L-2.33 -14.07L-3.37 -15.25L-4.54 -16.36L-5.85 -17.39L-7.28 -18.33L-8.84 -19.18L-10.51 -19.91L-12.28 -20.52L-14.15 -21.00L-14.53 -18.73L-12.80 -18.45L-11.13 -18.05L-9.55 -17.53L-8.05 -16.90L-6.64 -16.17L-5.34 -15.34L-4.14 -14.42L-3.06 -13.42L-2.10 -12.36L-1.25 -11.22L-0.54 -10.04L0.04 -8.80L0.48 -7.54L0.78 -6.25Z" fill="#231f20"/><path d="M2.53 -5.82L2.71 -7.15L2.76 -8.52L2.66 -9.92L2.43 -11.34L2.04 -12.76L1.50 -14.18L0.81 -15.57L-0.03 -16.94L-1.02 -18.27L-2.15 -19.54L-3.43 -20.74L-4.85 -21.87L-6.40 -22.90L-8.08 -23.84L-9.02 -21.74L-7.42 -21.04L-5.93 -20.23L-4.54 -19.33L-3.26 -18.35L-2.10 -17.29L-1.06 -16.16L-0.15 -14.97L0.63 -13.74L1.27 -12.47L1.78 -11.16L2.16 -9.83L2.39 -8.50L2.48 -7.16L2.42 -5.84Z" fill="#231f20"/><path d="M4.00 -4.99L4.53 -6.23L4.94 -7.54L5.22 -8.91L5.37 -10.34L5.37 -11.81L5.23 -13.31L4.94 -14.83L4.49 -16.36L3.89 -17.89L3.13 -19.41L2.22 -20.89L1.14 -22.33L-0.08 -23.72L-1.45 -25.05L-2.90 -23.27L-1.55 -22.18L-0.32 -21.03L0.78 -19.82L1.75 -18.55L2.59 -17.23L3.29 -15.88L3.85 -14.51L4.27 -13.12L4.56 -11.73L4.70 -10.34L4.71 -8.96L4.57 -7.61L4.30 -6.30L3.90 -5.03Z" fill="#231f20"/><path d="M5.19 -3.81L6.03 -4.88L6.78 -6.04L7.42 -7.29L7.94 -8.63L8.34 -10.05L8.60 -11.54L8.73 -13.08L8.70 -14.67L8.53 -16.30L8.20 -17.95L7.71 -19.61L7.06 -21.28L6.25 -22.93L5.27 -24.56L3.41 -23.21L4.43 -21.83L5.31 -20.40L6.05 -18.95L6.64 -17.48L7.10 -16.00L7.42 -14.53L7.59 -13.06L7.63 -11.61L7.53 -10.19L7.30 -8.81L6.94 -7.48L6.45 -6.21L5.84 -5.00L5.10 -3.88Z" fill="#231f20"/><path d="M6.03 -2.38L7.13 -3.19L8.16 -4.13L9.11 -5.18L9.97 -6.34L10.74 -7.61L11.39 -8.98L11.92 -10.43L12.32 -11.97L12.59 -13.59L12.71 -15.27L12.68 -17.00L12.50 -18.77L12.15 -20.57L11.64 -22.38L9.49 -21.57L10.10 -19.98L10.57 -18.39L10.90 -16.80L11.08 -15.23L11.13 -13.69L11.04 -12.18L10.82 -10.71L10.47 -9.30L9.99 -7.96L9.40 -6.68L8.70 -5.48L7.88 -4.38L6.97 -3.37L5.97 -2.47Z" fill="#231f20"/><path d="M6.46 -0.78L7.74 -1.30L8.99 -1.94L10.18 -2.71L11.33 -3.62L12.40 -4.65L13.39 -5.81L14.29 -7.08L15.09 -8.47L15.78 -9.96L16.35 -11.54L16.78 -13.22L17.07 -14.98L17.22 -16.80L17.21 -18.68L14.92 -18.47L15.09 -16.78L15.12 -15.12L15.01 -13.51L14.77 -11.94L14.40 -10.44L13.91 -9.00L13.31 -7.64L12.59 -6.36L11.78 -5.18L10.86 -4.10L9.86 -3.12L8.78 -2.25L7.63 -1.50L6.42 -0.89Z" fill="#231f20"/><path d="M6.45 0.87L7.82 0.69L9.20 0.38L10.56 -0.06L11.91 -0.65L13.22 -1.38L14.49 -2.24L15.70 -3.24L16.84 -4.38L17.90 -5.65L18.87 -7.04L19.73 -8.54L20.49 -10.16L21.12 -11.89L21.61 -13.70L19.35 -14.11L19.06 -12.44L18.64 -10.83L18.11 -9.29L17.46 -7.84L16.70 -6.47L15.84 -5.21L14.89 -4.04L13.86 -2.99L12.75 -2.05L11.58 -1.23L10.36 -0.53L9.08 0.03L7.77 0.46L6.44 0.75Z" fill="#1ba0db"/><path d="M6.00 2.46L7.37 2.63L8.79 2.68L10.22 2.59L11.68 2.36L13.14 1.99L14.60 1.47L16.03 0.81L17.44 -0.00L18.80 -0.96L20.11 -2.05L21.34 -3.29L22.50 -4.66L23.57 -6.17L24.53 -7.80L22.46 -8.79L21.73 -7.24L20.90 -5.79L19.97 -4.44L18.95 -3.19L17.85 -2.07L16.69 -1.06L15.46 -0.17L14.18 0.59L12.86 1.22L11.51 1.72L10.14 2.08L8.76 2.31L7.38 2.40L6.02 2.35Z" fill="#1ba0db"/></svg>
<div class="a" style="left:94px;top:668.7px;font-size:11.5px;font-weight:bold;color:#1ba0e0;line-height:1;letter-spacing:1.5px">HEALTH</div>
<div class="a" style="left:93.5px;top:680.8px;font-size:11.5px;font-weight:bold;color:#1d1d1b;line-height:1;letter-spacing:1.15px">CLUSTER</div>
</body></html>
